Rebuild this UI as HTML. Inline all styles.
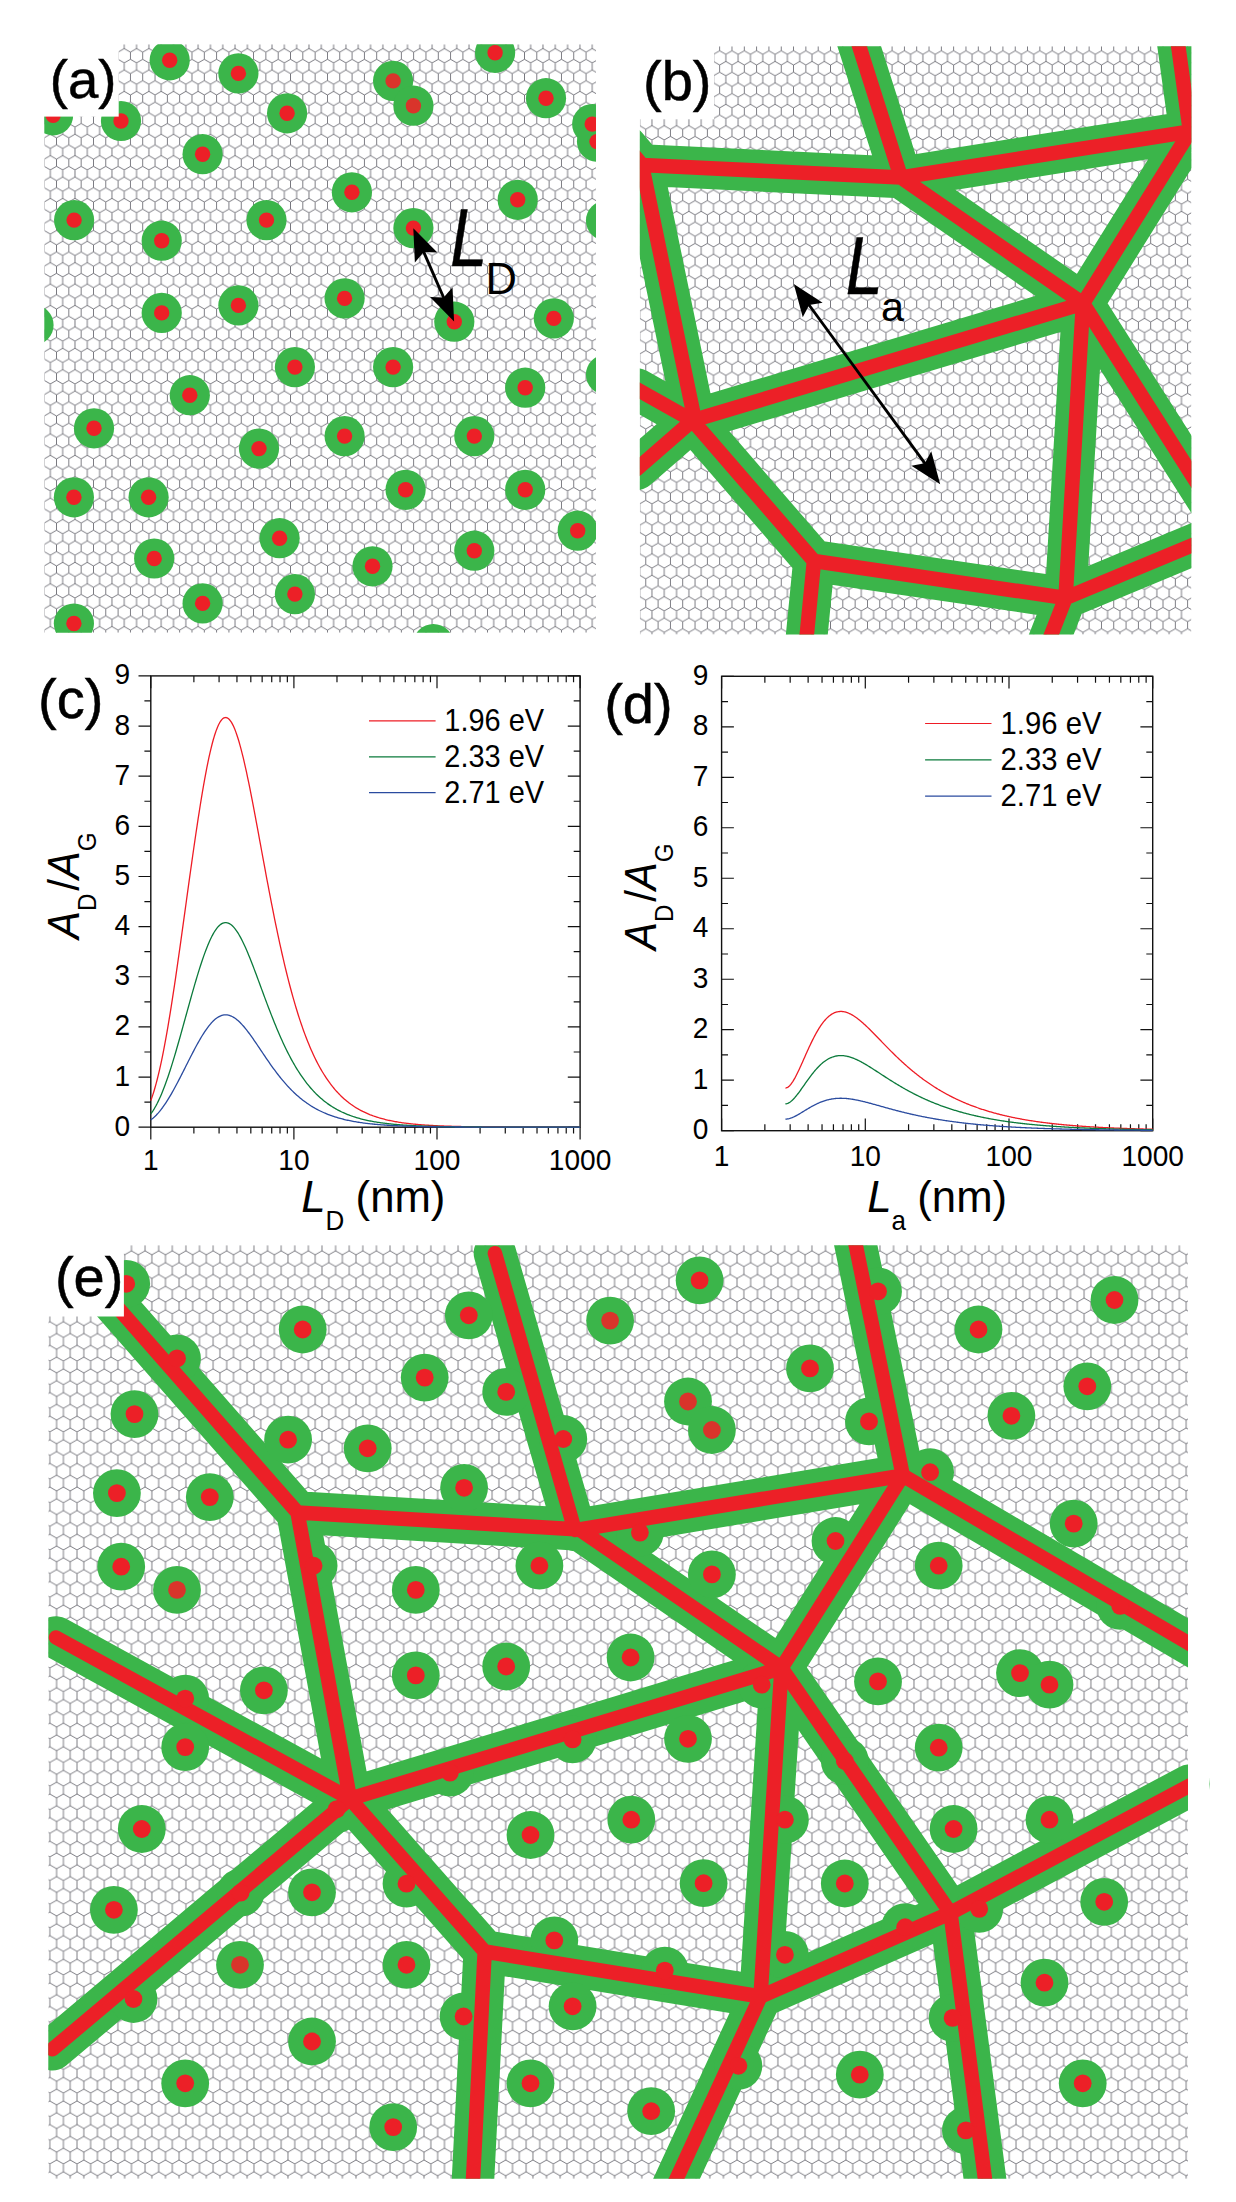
<!DOCTYPE html>
<html lang="en"><head><meta charset="utf-8"><title>Point and line defects in graphene</title>
<style>html,body{margin:0;padding:0;background:#fff}svg{display:block}text{font-family:'Liberation Sans',Arial,Helvetica,sans-serif;fill:#000}.it{font-style:italic}</style></head><body>
<svg width="1236" height="2202" viewBox="0 0 1236 2202">
<defs>
<pattern id="hexA" patternUnits="userSpaceOnUse" x="50.36" y="41.46" width="12.315" height="21.406"><path d="M0 0V7.14L6.16 10.7L12.31 7.14V0M6.16 10.7V17.84L0 21.41M6.16 17.84L12.31 21.41" fill="none" stroke="#5c5c64" stroke-width="0.8"/></pattern>
<pattern id="hexB" patternUnits="userSpaceOnUse" x="639.62" y="32.94" width="12.315" height="21.406"><path d="M0 0V7.14L6.16 10.7L12.31 7.14V0M6.16 10.7V17.84L0 21.41M6.16 17.84L12.31 21.41" fill="none" stroke="#5c5c64" stroke-width="0.8"/></pattern>
<pattern id="hexE" patternUnits="userSpaceOnUse" x="49.81" y="1243" width="13.609" height="23.614"><path d="M0 0V7.87L6.8 11.81L13.61 7.87V0M6.8 11.81V19.68L0 23.61M6.8 19.68L13.61 23.61" fill="none" stroke="#5c5c64" stroke-width="0.8"/></pattern>
<clipPath id="clipA"><rect x="44.3" y="44.3" width="551.7" height="588.4"/></clipPath>
<clipPath id="clipB"><rect x="639.8" y="46.3" width="551.6" height="588.3"/></clipPath>
<clipPath id="clipE"><rect x="48.3" y="1245.2" width="1139.7" height="933.6"/></clipPath>
</defs>
<rect width="1236" height="2202" fill="#fff"/>
<g clip-path="url(#clipA)">
<rect x="44.3" y="44.3" width="551.7" height="588.4" fill="url(#hexA)"/>
<circle cx="169.7" cy="60.3" r="20.1" fill="#3bb54a"/>
<circle cx="238.4" cy="73.4" r="20.1" fill="#3bb54a"/>
<circle cx="287.1" cy="113.3" r="20.1" fill="#3bb54a"/>
<circle cx="121" cy="121" r="20.1" fill="#3bb54a"/>
<circle cx="53.1" cy="115.3" r="20.1" fill="#3bb54a"/>
<circle cx="202.6" cy="154.2" r="20.1" fill="#3bb54a"/>
<circle cx="74.1" cy="220.1" r="20.1" fill="#3bb54a"/>
<circle cx="161.7" cy="240.7" r="20.1" fill="#3bb54a"/>
<circle cx="266.5" cy="220.1" r="20.1" fill="#3bb54a"/>
<circle cx="161.7" cy="312.9" r="20.1" fill="#3bb54a"/>
<circle cx="238.4" cy="305.4" r="20.1" fill="#3bb54a"/>
<circle cx="33.5" cy="325" r="20.1" fill="#3bb54a"/>
<circle cx="393.1" cy="80.9" r="20.1" fill="#3bb54a"/>
<circle cx="413.4" cy="105.7" r="20.1" fill="#3bb54a"/>
<circle cx="495.1" cy="52.8" r="20.1" fill="#3bb54a"/>
<circle cx="546" cy="98.2" r="20.1" fill="#3bb54a"/>
<circle cx="592.2" cy="124.1" r="20.1" fill="#3bb54a"/>
<circle cx="597" cy="141.6" r="20.1" fill="#3bb54a"/>
<circle cx="351.9" cy="192.3" r="20.1" fill="#3bb54a"/>
<circle cx="517.7" cy="199.8" r="20.1" fill="#3bb54a"/>
<circle cx="413.4" cy="228.1" r="20.1" fill="#3bb54a"/>
<circle cx="606" cy="220.6" r="20.1" fill="#3bb54a"/>
<circle cx="344.6" cy="298.4" r="20.1" fill="#3bb54a"/>
<circle cx="454.3" cy="321.7" r="20.1" fill="#3bb54a"/>
<circle cx="553.8" cy="318.4" r="20.1" fill="#3bb54a"/>
<circle cx="294.9" cy="367.1" r="20.1" fill="#3bb54a"/>
<circle cx="189.8" cy="395.2" r="20.1" fill="#3bb54a"/>
<circle cx="94" cy="428.3" r="20.1" fill="#3bb54a"/>
<circle cx="259" cy="448.6" r="20.1" fill="#3bb54a"/>
<circle cx="73.9" cy="497.3" r="20.1" fill="#3bb54a"/>
<circle cx="148.6" cy="497.3" r="20.1" fill="#3bb54a"/>
<circle cx="279.6" cy="538.2" r="20.1" fill="#3bb54a"/>
<circle cx="154.2" cy="558.5" r="20.1" fill="#3bb54a"/>
<circle cx="202.6" cy="603.4" r="20.1" fill="#3bb54a"/>
<circle cx="294.9" cy="594.1" r="20.1" fill="#3bb54a"/>
<circle cx="73.9" cy="623.5" r="20.1" fill="#3bb54a"/>
<circle cx="393.1" cy="367.1" r="20.1" fill="#3bb54a"/>
<circle cx="525.2" cy="387.7" r="20.1" fill="#3bb54a"/>
<circle cx="606" cy="374.6" r="20.1" fill="#3bb54a"/>
<circle cx="344.6" cy="436.1" r="20.1" fill="#3bb54a"/>
<circle cx="474.3" cy="436.1" r="20.1" fill="#3bb54a"/>
<circle cx="405.6" cy="489.8" r="20.1" fill="#3bb54a"/>
<circle cx="525.2" cy="489.8" r="20.1" fill="#3bb54a"/>
<circle cx="577.7" cy="530.7" r="20.1" fill="#3bb54a"/>
<circle cx="474.3" cy="550.7" r="20.1" fill="#3bb54a"/>
<circle cx="372.5" cy="566.3" r="20.1" fill="#3bb54a"/>
<circle cx="433.4" cy="644" r="20.1" fill="#3bb54a"/>
<circle cx="169.7" cy="60.3" r="7.7" fill="#ec2027"/>
<circle cx="238.4" cy="73.4" r="7.7" fill="#ec2027"/>
<circle cx="287.1" cy="113.3" r="7.7" fill="#ec2027"/>
<circle cx="121" cy="121" r="7.7" fill="#ec2027"/>
<circle cx="53.1" cy="115.3" r="7.7" fill="#ec2027"/>
<circle cx="202.6" cy="154.2" r="7.7" fill="#ec2027"/>
<circle cx="74.1" cy="220.1" r="7.7" fill="#ec2027"/>
<circle cx="161.7" cy="240.7" r="7.7" fill="#ec2027"/>
<circle cx="266.5" cy="220.1" r="7.7" fill="#ec2027"/>
<circle cx="161.7" cy="312.9" r="7.7" fill="#ec2027"/>
<circle cx="238.4" cy="305.4" r="7.7" fill="#ec2027"/>
<circle cx="33.5" cy="325" r="7.7" fill="#ec2027"/>
<circle cx="393.1" cy="80.9" r="7.7" fill="#d9342b"/>
<circle cx="413.4" cy="105.7" r="7.7" fill="#d9342b"/>
<circle cx="495.1" cy="52.8" r="7.7" fill="#ec2027"/>
<circle cx="546" cy="98.2" r="7.7" fill="#ec2027"/>
<circle cx="592.2" cy="124.1" r="7.7" fill="#ec2027"/>
<circle cx="597" cy="141.6" r="7.7" fill="#ec2027"/>
<circle cx="351.9" cy="192.3" r="7.7" fill="#ec2027"/>
<circle cx="517.7" cy="199.8" r="7.7" fill="#ec2027"/>
<circle cx="413.4" cy="228.1" r="7.7" fill="#ec2027"/>
<circle cx="606" cy="220.6" r="7.7" fill="#ec2027"/>
<circle cx="344.6" cy="298.4" r="7.7" fill="#ec2027"/>
<circle cx="454.3" cy="321.7" r="7.7" fill="#ec2027"/>
<circle cx="553.8" cy="318.4" r="7.7" fill="#ec2027"/>
<circle cx="294.9" cy="367.1" r="7.7" fill="#ec2027"/>
<circle cx="189.8" cy="395.2" r="7.7" fill="#ec2027"/>
<circle cx="94" cy="428.3" r="7.7" fill="#ec2027"/>
<circle cx="259" cy="448.6" r="7.7" fill="#ec2027"/>
<circle cx="73.9" cy="497.3" r="7.7" fill="#ec2027"/>
<circle cx="148.6" cy="497.3" r="7.7" fill="#ec2027"/>
<circle cx="279.6" cy="538.2" r="7.7" fill="#ec2027"/>
<circle cx="154.2" cy="558.5" r="7.7" fill="#ec2027"/>
<circle cx="202.6" cy="603.4" r="7.7" fill="#ec2027"/>
<circle cx="294.9" cy="594.1" r="7.7" fill="#ec2027"/>
<circle cx="73.9" cy="623.5" r="7.7" fill="#ec2027"/>
<circle cx="393.1" cy="367.1" r="7.7" fill="#ec2027"/>
<circle cx="525.2" cy="387.7" r="7.7" fill="#ec2027"/>
<circle cx="606" cy="374.6" r="7.7" fill="#ec2027"/>
<circle cx="344.6" cy="436.1" r="7.7" fill="#ec2027"/>
<circle cx="474.3" cy="436.1" r="7.7" fill="#ec2027"/>
<circle cx="405.6" cy="489.8" r="7.7" fill="#ec2027"/>
<circle cx="525.2" cy="489.8" r="7.7" fill="#ec2027"/>
<circle cx="577.7" cy="530.7" r="7.7" fill="#ec2027"/>
<circle cx="474.3" cy="550.7" r="7.7" fill="#ec2027"/>
<circle cx="372.5" cy="566.3" r="7.7" fill="#ec2027"/>
<circle cx="433.4" cy="644" r="7.7" fill="#ec2027"/>
</g>
<rect x="40" y="40" width="78.7" height="76.6" fill="#fff"/>
<text x="49.8" y="97.8" font-size="54.5" stroke="#000" stroke-width="0.5">(a)</text>
<path d="M422.68 249.64L444.72 299.96" stroke="#000" stroke-width="2.9" fill="none"/>
<path d="M413.3 228.2L414.87 262.45L423.73 252.02L437.4 252.58ZM454.1 321.4L430 297.02L443.67 297.58L452.53 287.15Z" fill="#000"/>
<text class="it" transform="translate(450.3 265.7) scale(0.81 1)" font-size="82" stroke="#000" stroke-width="0.6">L</text>
<text x="485.5" y="294.2" font-size="43.5">D</text>
<g clip-path="url(#clipB)">
<rect x="639.8" y="46.3" width="551.6" height="588.3" fill="url(#hexB)"/>
<path d="M901 177.5L852.93 26.5M642 165L901 177.5M901 177.5L1190 131.5M901 177.5L1083 303.5M1190 131.5L1083 303.5M1190 131.5L1175.96 29.26M1190 131.5L1215 128.5M642 165L626 146M641.9 165L694.5 419M692.5 420.5L1083 303.5M692.5 420.5L636.5 389M692.5 420.5L636.5 469.3M692.5 420.5L814 561M814 561L805 653.12M814 561L1065.5 598M1065.5 598L1083 303.5M1065.5 598L1216.46 535.24M1065.5 598L1045.48 649.38M1083 303.5L1212.96 508.1" fill="none" stroke="#3bb54a" stroke-width="41.7" stroke-linecap="round" stroke-linejoin="round"/>
<path d="M901 177.5L852.93 26.5M642 165L901 177.5M901 177.5L1190 131.5M901 177.5L1083 303.5M1190 131.5L1083 303.5M1190 131.5L1175.96 29.26M1190 131.5L1215 128.5M642 165L626 146M641.9 165L694.5 419M692.5 420.5L1083 303.5M692.5 420.5L636.5 389M692.5 420.5L636.5 469.3M692.5 420.5L814 561M814 561L805 653.12M814 561L1065.5 598M1065.5 598L1083 303.5M1065.5 598L1216.46 535.24M1065.5 598L1045.48 649.38M1083 303.5L1212.96 508.1" fill="none" stroke="#ec2027" stroke-width="14.6" stroke-linecap="round" stroke-linejoin="round"/>
</g>
<rect x="636" y="42" width="78" height="77.3" fill="#fff"/>
<text x="643" y="99.5" font-size="56" stroke="#000" stroke-width="0.5">(b)</text>
<path d="M807.61 302.99L926.39 465.41" stroke="#000" stroke-width="2.9" fill="none"/>
<path d="M793.8 284.1L802.76 317.19L809.15 305.09L822.62 302.67ZM940.2 484.3L911.38 465.73L924.85 463.31L931.24 451.21Z" fill="#000"/>
<text class="it" transform="translate(845.8 293.5) scale(0.81 1)" font-size="82" stroke="#000" stroke-width="0.6">L</text>
<text x="881" y="321.2" font-size="41.5">a</text>
<g clip-path="url(#clipE)">
<rect x="48.3" y="1245.2" width="1139.7" height="933.6" fill="url(#hexE)"/>
<path d="M297.5 1512.5L7.94 1182.47M297.5 1512.5L579.5 1529.5M297.5 1512.5L350 1798.7M574.7 1530L494.9 1253.2M579.5 1529.5L902.8 1475.5M579.5 1529.5L781.5 1668M902.8 1475.5L848.87 1211.58M902.8 1475.5L781.5 1668M902.8 1475.5L1216.74 1659.75M350 1798.7L56 1637.5M350 1798.7L781.5 1668M350 1798.7L52.5 2049.3M350 1798.7L484.7 1951.5M781.5 1668L760.5 1996.5M781.5 1668L950.5 1913M484.7 1951.5L760.5 1996.5M484.7 1951.5L471.36 2211.51M760.5 1996.5L950.5 1913M760.5 1996.5L664.59 2204.76M950.5 1913L1189.5 1785.7M950.5 1913L989.94 2217.29" fill="none" stroke="#3bb54a" stroke-width="42.5" stroke-linecap="round" stroke-linejoin="round"/>
<circle cx="126.2" cy="1283.8" r="23.9" fill="#3bb54a"/>
<circle cx="302.7" cy="1329.5" r="23.9" fill="#3bb54a"/>
<circle cx="177" cy="1358.4" r="23.9" fill="#3bb54a"/>
<circle cx="424.7" cy="1377.6" r="23.9" fill="#3bb54a"/>
<circle cx="134.5" cy="1414.1" r="23.9" fill="#3bb54a"/>
<circle cx="288.1" cy="1439.7" r="23.9" fill="#3bb54a"/>
<circle cx="367.7" cy="1448.3" r="23.9" fill="#3bb54a"/>
<circle cx="116.9" cy="1493.1" r="23.9" fill="#3bb54a"/>
<circle cx="209.8" cy="1497.1" r="23.9" fill="#3bb54a"/>
<circle cx="313.6" cy="1565.7" r="23.9" fill="#3bb54a"/>
<circle cx="121.2" cy="1566.7" r="23.9" fill="#3bb54a"/>
<circle cx="177" cy="1589.9" r="23.9" fill="#3bb54a"/>
<circle cx="415.8" cy="1589.9" r="23.9" fill="#3bb54a"/>
<circle cx="468.8" cy="1315.3" r="23.9" fill="#3bb54a"/>
<circle cx="610.1" cy="1320.6" r="23.9" fill="#3bb54a"/>
<circle cx="699.6" cy="1280.4" r="23.9" fill="#3bb54a"/>
<circle cx="506.2" cy="1391.9" r="23.9" fill="#3bb54a"/>
<circle cx="810" cy="1368.4" r="23.9" fill="#3bb54a"/>
<circle cx="688" cy="1401.5" r="23.9" fill="#3bb54a"/>
<circle cx="711.9" cy="1430" r="23.9" fill="#3bb54a"/>
<circle cx="563.3" cy="1439" r="23.9" fill="#3bb54a"/>
<circle cx="464.1" cy="1487.8" r="23.9" fill="#3bb54a"/>
<circle cx="639.9" cy="1532.6" r="23.9" fill="#3bb54a"/>
<circle cx="539.4" cy="1565.7" r="23.9" fill="#3bb54a"/>
<circle cx="711.9" cy="1574.4" r="23.9" fill="#3bb54a"/>
<circle cx="630.6" cy="1657.5" r="23.9" fill="#3bb54a"/>
<circle cx="506.2" cy="1666.5" r="23.9" fill="#3bb54a"/>
<circle cx="878" cy="1291.4" r="23.9" fill="#3bb54a"/>
<circle cx="978.5" cy="1329.5" r="23.9" fill="#3bb54a"/>
<circle cx="1114.5" cy="1300" r="23.9" fill="#3bb54a"/>
<circle cx="1087.3" cy="1386.3" r="23.9" fill="#3bb54a"/>
<circle cx="1011.4" cy="1415.8" r="23.9" fill="#3bb54a"/>
<circle cx="869" cy="1421.4" r="23.9" fill="#3bb54a"/>
<circle cx="930.1" cy="1472.2" r="23.9" fill="#3bb54a"/>
<circle cx="1073.7" cy="1523.6" r="23.9" fill="#3bb54a"/>
<circle cx="835.5" cy="1541" r="23.9" fill="#3bb54a"/>
<circle cx="938.7" cy="1565.7" r="23.9" fill="#3bb54a"/>
<circle cx="1120.2" cy="1605.9" r="23.9" fill="#3bb54a"/>
<circle cx="185.2" cy="1698.6" r="23.9" fill="#3bb54a"/>
<circle cx="263.9" cy="1690.3" r="23.9" fill="#3bb54a"/>
<circle cx="415.8" cy="1675.4" r="23.9" fill="#3bb54a"/>
<circle cx="185.2" cy="1747.1" r="23.9" fill="#3bb54a"/>
<circle cx="141.8" cy="1829" r="23.9" fill="#3bb54a"/>
<circle cx="336.8" cy="1809.1" r="23.9" fill="#3bb54a"/>
<circle cx="312" cy="1892.3" r="23.9" fill="#3bb54a"/>
<circle cx="240.6" cy="1892.7" r="23.9" fill="#3bb54a"/>
<circle cx="406.5" cy="1883.7" r="23.9" fill="#3bb54a"/>
<circle cx="113.9" cy="1909.8" r="23.9" fill="#3bb54a"/>
<circle cx="240" cy="1964.8" r="23.9" fill="#3bb54a"/>
<circle cx="406.5" cy="1964.8" r="23.9" fill="#3bb54a"/>
<circle cx="133.5" cy="1999" r="23.9" fill="#3bb54a"/>
<circle cx="312" cy="2041.5" r="23.9" fill="#3bb54a"/>
<circle cx="185.2" cy="2083.3" r="23.9" fill="#3bb54a"/>
<circle cx="393.2" cy="2127.1" r="23.9" fill="#3bb54a"/>
<circle cx="761.7" cy="1684.7" r="23.9" fill="#3bb54a"/>
<circle cx="572.6" cy="1739.4" r="23.9" fill="#3bb54a"/>
<circle cx="449.9" cy="1772.6" r="23.9" fill="#3bb54a"/>
<circle cx="688" cy="1738.8" r="23.9" fill="#3bb54a"/>
<circle cx="631.3" cy="1819.7" r="23.9" fill="#3bb54a"/>
<circle cx="530.5" cy="1835" r="23.9" fill="#3bb54a"/>
<circle cx="784.9" cy="1819.7" r="23.9" fill="#3bb54a"/>
<circle cx="703.6" cy="1883.2" r="23.9" fill="#3bb54a"/>
<circle cx="554.3" cy="1940.4" r="23.9" fill="#3bb54a"/>
<circle cx="664.8" cy="1970.6" r="23.9" fill="#3bb54a"/>
<circle cx="784.9" cy="1954.8" r="23.9" fill="#3bb54a"/>
<circle cx="572.6" cy="2006.3" r="23.9" fill="#3bb54a"/>
<circle cx="463.6" cy="2016.5" r="23.9" fill="#3bb54a"/>
<circle cx="738.4" cy="2065.8" r="23.9" fill="#3bb54a"/>
<circle cx="530.5" cy="2083.3" r="23.9" fill="#3bb54a"/>
<circle cx="651.2" cy="2111.2" r="23.9" fill="#3bb54a"/>
<circle cx="878" cy="1681.4" r="23.9" fill="#3bb54a"/>
<circle cx="1020" cy="1673.1" r="23.9" fill="#3bb54a"/>
<circle cx="1049.5" cy="1684.7" r="23.9" fill="#3bb54a"/>
<circle cx="844.8" cy="1761" r="23.9" fill="#3bb54a"/>
<circle cx="938.7" cy="1747.7" r="23.9" fill="#3bb54a"/>
<circle cx="953.6" cy="1829" r="23.9" fill="#3bb54a"/>
<circle cx="1049.5" cy="1819.7" r="23.9" fill="#3bb54a"/>
<circle cx="844.8" cy="1883.5" r="23.9" fill="#3bb54a"/>
<circle cx="1104.2" cy="1901.8" r="23.9" fill="#3bb54a"/>
<circle cx="979.2" cy="1908.9" r="23.9" fill="#3bb54a"/>
<circle cx="905.2" cy="1927.2" r="23.9" fill="#3bb54a"/>
<circle cx="1044.5" cy="1982.7" r="23.9" fill="#3bb54a"/>
<circle cx="952.6" cy="2017.9" r="23.9" fill="#3bb54a"/>
<circle cx="859.8" cy="2074.7" r="23.9" fill="#3bb54a"/>
<circle cx="1082.7" cy="2083.3" r="23.9" fill="#3bb54a"/>
<circle cx="965.9" cy="2130.4" r="23.9" fill="#3bb54a"/>
<path d="M297.5 1512.5L7.94 1182.47M297.5 1512.5L579.5 1529.5M297.5 1512.5L350 1798.7M574.7 1530L494.9 1253.2M579.5 1529.5L902.8 1475.5M579.5 1529.5L781.5 1668M902.8 1475.5L848.87 1211.58M902.8 1475.5L781.5 1668M902.8 1475.5L1216.74 1659.75M350 1798.7L56 1637.5M350 1798.7L781.5 1668M350 1798.7L52.5 2049.3M350 1798.7L484.7 1951.5M781.5 1668L760.5 1996.5M781.5 1668L950.5 1913M484.7 1951.5L760.5 1996.5M484.7 1951.5L471.36 2211.51M760.5 1996.5L950.5 1913M760.5 1996.5L664.59 2204.76M950.5 1913L1189.5 1785.7M950.5 1913L989.94 2217.29" fill="none" stroke="#ec2027" stroke-width="14.5" stroke-linecap="round" stroke-linejoin="round"/>
<circle cx="126.2" cy="1283.8" r="8.9" fill="#ec2027"/>
<circle cx="302.7" cy="1329.5" r="8.9" fill="#ec2027"/>
<circle cx="177" cy="1358.4" r="8.9" fill="#ec2027"/>
<circle cx="424.7" cy="1377.6" r="8.9" fill="#ec2027"/>
<circle cx="134.5" cy="1414.1" r="8.9" fill="#ec2027"/>
<circle cx="288.1" cy="1439.7" r="8.9" fill="#ec2027"/>
<circle cx="367.7" cy="1448.3" r="8.9" fill="#ec2027"/>
<circle cx="116.9" cy="1493.1" r="8.9" fill="#ec2027"/>
<circle cx="209.8" cy="1497.1" r="8.9" fill="#ec2027"/>
<circle cx="313.6" cy="1565.7" r="8.9" fill="#ec2027"/>
<circle cx="121.2" cy="1566.7" r="8.9" fill="#ec2027"/>
<circle cx="177" cy="1589.9" r="8.9" fill="#d9342b"/>
<circle cx="415.8" cy="1589.9" r="8.9" fill="#ec2027"/>
<circle cx="468.8" cy="1315.3" r="8.9" fill="#ec2027"/>
<circle cx="610.1" cy="1320.6" r="8.9" fill="#d9342b"/>
<circle cx="699.6" cy="1280.4" r="8.9" fill="#ec2027"/>
<circle cx="506.2" cy="1391.9" r="8.9" fill="#ec2027"/>
<circle cx="810" cy="1368.4" r="8.9" fill="#ec2027"/>
<circle cx="688" cy="1401.5" r="8.9" fill="#d9342b"/>
<circle cx="711.9" cy="1430" r="8.9" fill="#d9342b"/>
<circle cx="563.3" cy="1439" r="8.9" fill="#ec2027"/>
<circle cx="464.1" cy="1487.8" r="8.9" fill="#ec2027"/>
<circle cx="639.9" cy="1532.6" r="8.9" fill="#ec2027"/>
<circle cx="539.4" cy="1565.7" r="8.9" fill="#ec2027"/>
<circle cx="711.9" cy="1574.4" r="8.9" fill="#ec2027"/>
<circle cx="630.6" cy="1657.5" r="8.9" fill="#ec2027"/>
<circle cx="506.2" cy="1666.5" r="8.9" fill="#ec2027"/>
<circle cx="878" cy="1291.4" r="8.9" fill="#ec2027"/>
<circle cx="978.5" cy="1329.5" r="8.9" fill="#ec2027"/>
<circle cx="1114.5" cy="1300" r="8.9" fill="#ec2027"/>
<circle cx="1087.3" cy="1386.3" r="8.9" fill="#ec2027"/>
<circle cx="1011.4" cy="1415.8" r="8.9" fill="#ec2027"/>
<circle cx="869" cy="1421.4" r="8.9" fill="#ec2027"/>
<circle cx="930.1" cy="1472.2" r="8.9" fill="#ec2027"/>
<circle cx="1073.7" cy="1523.6" r="8.9" fill="#ec2027"/>
<circle cx="835.5" cy="1541" r="8.9" fill="#ec2027"/>
<circle cx="938.7" cy="1565.7" r="8.9" fill="#ec2027"/>
<circle cx="1120.2" cy="1605.9" r="8.9" fill="#ec2027"/>
<circle cx="185.2" cy="1698.6" r="8.9" fill="#ec2027"/>
<circle cx="263.9" cy="1690.3" r="8.9" fill="#ec2027"/>
<circle cx="415.8" cy="1675.4" r="8.9" fill="#ec2027"/>
<circle cx="185.2" cy="1747.1" r="8.9" fill="#ec2027"/>
<circle cx="141.8" cy="1829" r="8.9" fill="#ec2027"/>
<circle cx="336.8" cy="1809.1" r="8.9" fill="#ec2027"/>
<circle cx="312" cy="1892.3" r="8.9" fill="#ec2027"/>
<circle cx="240.6" cy="1892.7" r="8.9" fill="#ec2027"/>
<circle cx="406.5" cy="1883.7" r="8.9" fill="#ec2027"/>
<circle cx="113.9" cy="1909.8" r="8.9" fill="#ec2027"/>
<circle cx="240" cy="1964.8" r="8.9" fill="#d9342b"/>
<circle cx="406.5" cy="1964.8" r="8.9" fill="#ec2027"/>
<circle cx="133.5" cy="1999" r="8.9" fill="#ec2027"/>
<circle cx="312" cy="2041.5" r="8.9" fill="#ec2027"/>
<circle cx="185.2" cy="2083.3" r="8.9" fill="#ec2027"/>
<circle cx="393.2" cy="2127.1" r="8.9" fill="#ec2027"/>
<circle cx="761.7" cy="1684.7" r="8.9" fill="#ec2027"/>
<circle cx="572.6" cy="1739.4" r="8.9" fill="#ec2027"/>
<circle cx="449.9" cy="1772.6" r="8.9" fill="#ec2027"/>
<circle cx="688" cy="1738.8" r="8.9" fill="#ec2027"/>
<circle cx="631.3" cy="1819.7" r="8.9" fill="#ec2027"/>
<circle cx="530.5" cy="1835" r="8.9" fill="#ec2027"/>
<circle cx="784.9" cy="1819.7" r="8.9" fill="#ec2027"/>
<circle cx="703.6" cy="1883.2" r="8.9" fill="#ec2027"/>
<circle cx="554.3" cy="1940.4" r="8.9" fill="#ec2027"/>
<circle cx="664.8" cy="1970.6" r="8.9" fill="#ec2027"/>
<circle cx="784.9" cy="1954.8" r="8.9" fill="#ec2027"/>
<circle cx="572.6" cy="2006.3" r="8.9" fill="#ec2027"/>
<circle cx="463.6" cy="2016.5" r="8.9" fill="#ec2027"/>
<circle cx="738.4" cy="2065.8" r="8.9" fill="#ec2027"/>
<circle cx="530.5" cy="2083.3" r="8.9" fill="#ec2027"/>
<circle cx="651.2" cy="2111.2" r="8.9" fill="#ec2027"/>
<circle cx="878" cy="1681.4" r="8.9" fill="#ec2027"/>
<circle cx="1020" cy="1673.1" r="8.9" fill="#ec2027"/>
<circle cx="1049.5" cy="1684.7" r="8.9" fill="#ec2027"/>
<circle cx="844.8" cy="1761" r="8.9" fill="#ec2027"/>
<circle cx="938.7" cy="1747.7" r="8.9" fill="#ec2027"/>
<circle cx="953.6" cy="1829" r="8.9" fill="#ec2027"/>
<circle cx="1049.5" cy="1819.7" r="8.9" fill="#ec2027"/>
<circle cx="844.8" cy="1883.5" r="8.9" fill="#ec2027"/>
<circle cx="1104.2" cy="1901.8" r="8.9" fill="#ec2027"/>
<circle cx="979.2" cy="1908.9" r="8.9" fill="#ec2027"/>
<circle cx="905.2" cy="1927.2" r="8.9" fill="#ec2027"/>
<circle cx="1044.5" cy="1982.7" r="8.9" fill="#ec2027"/>
<circle cx="952.6" cy="2017.9" r="8.9" fill="#ec2027"/>
<circle cx="859.8" cy="2074.7" r="8.9" fill="#ec2027"/>
<circle cx="1082.7" cy="2083.3" r="8.9" fill="#ec2027"/>
<circle cx="965.9" cy="2130.4" r="8.9" fill="#ec2027"/>
</g>
<path d="M1209.2 1778Q1210.9 1784 1209.2 1790Q1209.9 1784 1209.2 1778Z" fill="#3bb54a"/>
<rect x="44" y="1241" width="79.9" height="75.5" fill="#fff"/>
<text x="54.9" y="1296" font-size="56" stroke="#000" stroke-width="0.5">(e)</text>
<path d="M138.5 1127.2H150.8M567.8 1127.2H580.1M144.4 1102.13H150.8M573.7 1102.13H580.1M138.5 1077.06H150.8M567.8 1077.06H580.1M144.4 1051.98H150.8M573.7 1051.98H580.1M138.5 1026.91H150.8M567.8 1026.91H580.1M144.4 1001.84H150.8M573.7 1001.84H580.1M138.5 976.77H150.8M567.8 976.77H580.1M144.4 951.69H150.8M573.7 951.69H580.1M138.5 926.62H150.8M567.8 926.62H580.1M144.4 901.55H150.8M573.7 901.55H580.1M138.5 876.48H150.8M567.8 876.48H580.1M144.4 851.41H150.8M573.7 851.41H580.1M138.5 826.33H150.8M567.8 826.33H580.1M144.4 801.26H150.8M573.7 801.26H580.1M138.5 776.19H150.8M567.8 776.19H580.1M144.4 751.12H150.8M573.7 751.12H580.1M138.5 726.04H150.8M567.8 726.04H580.1M144.4 700.97H150.8M573.7 700.97H580.1M138.5 675.9H150.8M567.8 675.9H580.1M150.8 1127.2V1139.5M150.8 675.9V688.2M193.88 1127.2V1133.6M193.88 675.9V682.3M219.08 1127.2V1133.6M219.08 675.9V682.3M236.95 1127.2V1133.6M236.95 675.9V682.3M250.82 1127.2V1133.6M250.82 675.9V682.3M262.15 1127.2V1133.6M262.15 675.9V682.3M271.73 1127.2V1133.6M271.73 675.9V682.3M280.03 1127.2V1133.6M280.03 675.9V682.3M287.35 1127.2V1133.6M287.35 675.9V682.3M293.9 1127.2V1139.5M293.9 675.9V688.2M336.98 1127.2V1133.6M336.98 675.9V682.3M362.18 1127.2V1133.6M362.18 675.9V682.3M380.05 1127.2V1133.6M380.05 675.9V682.3M393.92 1127.2V1133.6M393.92 675.9V682.3M405.25 1127.2V1133.6M405.25 675.9V682.3M414.83 1127.2V1133.6M414.83 675.9V682.3M423.13 1127.2V1133.6M423.13 675.9V682.3M430.45 1127.2V1133.6M430.45 675.9V682.3M437 1127.2V1139.5M437 675.9V688.2M480.08 1127.2V1133.6M480.08 675.9V682.3M505.28 1127.2V1133.6M505.28 675.9V682.3M523.15 1127.2V1133.6M523.15 675.9V682.3M537.02 1127.2V1133.6M537.02 675.9V682.3M548.35 1127.2V1133.6M548.35 675.9V682.3M557.93 1127.2V1133.6M557.93 675.9V682.3M566.23 1127.2V1133.6M566.23 675.9V682.3M573.55 1127.2V1133.6M573.55 675.9V682.3M580.1 1127.2V1139.5M580.1 675.9V688.2" stroke="#111" stroke-width="1.2" fill="none"/>
<rect x="150.8" y="675.9" width="429.3" height="451.3" fill="none" stroke="#111" stroke-width="1.4"/>
<text transform="translate(130.2 1135.7) scale(1 1.08)" font-size="28.1" text-anchor="end">0</text>
<text transform="translate(130.2 1085.56) scale(1 1.08)" font-size="28.1" text-anchor="end">1</text>
<text transform="translate(130.2 1035.41) scale(1 1.08)" font-size="28.1" text-anchor="end">2</text>
<text transform="translate(130.2 985.27) scale(1 1.08)" font-size="28.1" text-anchor="end">3</text>
<text transform="translate(130.2 935.12) scale(1 1.08)" font-size="28.1" text-anchor="end">4</text>
<text transform="translate(130.2 884.98) scale(1 1.08)" font-size="28.1" text-anchor="end">5</text>
<text transform="translate(130.2 834.83) scale(1 1.08)" font-size="28.1" text-anchor="end">6</text>
<text transform="translate(130.2 784.69) scale(1 1.08)" font-size="28.1" text-anchor="end">7</text>
<text transform="translate(130.2 734.54) scale(1 1.08)" font-size="28.1" text-anchor="end">8</text>
<text transform="translate(130.2 684.4) scale(1 1.08)" font-size="28.1" text-anchor="end">9</text>
<text transform="translate(150.8 1170) scale(1 1.08)" font-size="28.1" text-anchor="middle">1</text>
<text transform="translate(293.9 1170) scale(1 1.08)" font-size="28.1" text-anchor="middle">10</text>
<text transform="translate(437 1170) scale(1 1.08)" font-size="28.1" text-anchor="middle">100</text>
<text transform="translate(580.1 1170) scale(1 1.08)" font-size="28.1" text-anchor="middle">1000</text>
<text x="38" y="718.2" font-size="56" stroke="#000" stroke-width="0.5">(c)</text>
<text transform="translate(79.4 939) rotate(-90) scale(1 1.07)" font-size="42"><tspan class="it">A</tspan><tspan font-size="24.3" dy="15.9">D</tspan><tspan dy="-15.9" dx="2.6">/</tspan><tspan class="it">A</tspan><tspan font-size="24.3" dy="15.9">G</tspan></text>
<text transform="translate(301.3 1212.2) scale(1 1.02)" font-size="43.7" class="it">L</text>
<text transform="translate(325.5 1229.7) scale(1 1.04)" font-size="26">D</text>
<text transform="translate(355.6 1212.2) scale(1 1.02)" font-size="43.7">(nm)</text>
<path d="M369 720.9H435.6" stroke="#ee1c25" stroke-width="1.2"/>
<text transform="translate(444.3 731.1) scale(1 1.069)" font-size="28.95">1.96 eV</text>
<path d="M369 756.8H435.6" stroke="#0b7a3b" stroke-width="1.2"/>
<text transform="translate(444.3 767) scale(1 1.069)" font-size="28.95">2.33 eV</text>
<path d="M369 792.7H435.6" stroke="#2a4b9f" stroke-width="1.2"/>
<text transform="translate(444.3 802.9) scale(1 1.069)" font-size="28.95">2.71 eV</text>
<path d="M150.8 1100.62L151.88 1097.62L152.95 1094.4L154.03 1090.96L155.1 1087.29L156.18 1083.4L157.26 1079.28L158.33 1074.93L159.41 1070.35L160.48 1065.55L161.56 1060.53L162.64 1055.3L163.71 1049.85L164.79 1044.19L165.86 1038.34L166.94 1032.29L168.02 1026.06L169.09 1019.65L170.17 1013.07L171.24 1006.34L172.32 999.46L173.39 992.44L174.47 985.29L175.55 978.03L176.62 970.66L177.7 963.2L178.77 955.66L179.85 948.04L180.93 940.37L182 932.64L183.08 924.88L184.15 917.1L185.23 909.29L186.31 901.49L187.38 893.69L188.46 885.92L189.53 878.17L190.61 870.47L191.69 862.82L192.76 855.23L193.84 847.73L194.91 840.31L195.99 832.99L197.07 825.79L198.14 818.72L199.22 811.78L200.29 804.99L201.37 798.37L202.45 791.93L203.52 785.68L204.6 779.63L205.67 773.79L206.75 768.19L207.82 762.82L208.9 757.71L209.98 752.86L211.05 748.29L212.13 744L213.2 740L214.28 736.32L215.36 732.94L216.43 729.89L217.51 727.16L218.58 724.76L219.66 722.7L220.74 720.98L221.81 719.6L222.89 718.57L223.96 717.88L225.04 717.53L226.12 717.52L227.19 717.85L228.27 718.51L229.34 719.5L230.42 720.8L231.5 722.43L232.57 724.35L233.65 726.58L234.72 729.09L235.8 731.88L236.88 734.93L237.95 738.24L239.03 741.8L240.1 745.58L241.18 749.59L242.25 753.8L243.33 758.21L244.41 762.79L245.48 767.55L246.56 772.46L247.63 777.51L248.71 782.69L249.79 787.99L250.86 793.4L251.94 798.89L253.01 804.47L254.09 810.12L255.17 815.83L256.24 821.59L257.32 827.38L258.39 833.21L259.47 839.05L260.55 844.9L261.62 850.75L262.7 856.6L263.77 862.43L264.85 868.24L265.93 874.02L267 879.76L268.08 885.46L269.15 891.12L270.23 896.72L271.31 902.26L272.38 907.74L273.46 913.16L274.53 918.51L275.61 923.78L276.68 928.98L277.76 934.1L278.84 939.14L279.91 944.09L280.99 948.96L282.06 953.75L283.14 958.44L284.22 963.05L285.29 967.57L286.37 972L287.44 976.33L288.52 980.58L289.6 984.73L290.67 988.79L291.75 992.77L292.82 996.65L293.9 1000.44L294.98 1004.14L296.05 1007.76L297.13 1011.28L298.2 1014.72L299.28 1018.08L300.36 1021.35L301.43 1024.53L302.51 1027.64L303.58 1030.66L304.66 1033.6L305.74 1036.46L306.81 1039.25L307.89 1041.96L308.96 1044.6L310.04 1047.16L311.12 1049.65L312.19 1052.07L313.27 1054.43L314.34 1056.71L315.42 1058.93L316.49 1061.09L317.57 1063.18L318.65 1065.22L319.72 1067.19L320.8 1069.1L321.87 1070.96L322.95 1072.76L324.03 1074.51L325.1 1076.2L326.18 1077.85L327.25 1079.44L328.33 1080.99L329.41 1082.48L330.48 1083.94L331.56 1085.34L332.63 1086.71L333.71 1088.03L334.79 1089.31L335.86 1090.55L336.94 1091.75L338.01 1092.91L339.09 1094.04L340.17 1095.13L341.24 1096.18L342.32 1097.2L343.39 1098.19L344.47 1099.15L345.55 1100.08L346.62 1100.98L347.7 1101.85L348.77 1102.69L349.85 1103.5L350.92 1104.29L352 1105.05L353.08 1105.79L354.15 1106.5L355.23 1107.19L356.3 1107.86L357.38 1108.5L358.46 1109.13L359.53 1109.73L360.61 1110.31L361.68 1110.88L362.76 1111.43L363.84 1111.95L364.91 1112.46L365.99 1112.96L367.06 1113.44L368.14 1113.9L369.22 1114.34L370.29 1114.78L371.37 1115.19L372.44 1115.6L373.52 1115.99L374.6 1116.37L375.67 1116.73L376.75 1117.08L377.82 1117.42L378.9 1117.75L379.98 1118.07L381.05 1118.38L382.13 1118.68L383.2 1118.96L384.28 1119.24L385.35 1119.51L386.43 1119.77L387.51 1120.02L388.58 1120.26L389.66 1120.5L390.73 1120.73L391.81 1120.94L392.89 1121.16L393.96 1121.36L395.04 1121.56L396.11 1121.75L397.19 1121.93L398.27 1122.11L399.34 1122.28L400.42 1122.45L401.49 1122.61L402.57 1122.77L403.65 1122.92L404.72 1123.06L405.8 1123.2L406.87 1123.34L407.95 1123.47L409.03 1123.6L410.1 1123.72L411.18 1123.84L412.25 1123.95L413.33 1124.06L414.41 1124.17L415.48 1124.27L416.56 1124.37L417.63 1124.46L418.71 1124.56L419.78 1124.65L420.86 1124.73L421.94 1124.82L423.01 1124.9L424.09 1124.98L425.16 1125.05L426.24 1125.13L427.32 1125.2L428.39 1125.26L429.47 1125.33L430.54 1125.39L431.62 1125.45L432.7 1125.51L433.77 1125.57L434.85 1125.63L435.92 1125.68L437 1125.73L438.08 1125.78L439.15 1125.83L440.23 1125.88L441.3 1125.92L442.38 1125.96L443.46 1126.01L444.53 1126.05L445.61 1126.09L446.68 1126.12L447.76 1126.16L448.84 1126.2L449.91 1126.23L450.99 1126.26L452.06 1126.3L453.14 1126.33L454.22 1126.36L455.29 1126.38L456.37 1126.41L457.44 1126.44L458.52 1126.46L459.59 1126.49L460.67 1126.51L461.75 1126.54L462.82 1126.56L463.9 1126.58L464.97 1126.6L466.05 1126.62L467.13 1126.64L468.2 1126.66L469.28 1126.68L470.35 1126.7L471.43 1126.71L472.51 1126.73L473.58 1126.75L474.66 1126.76L475.73 1126.78L476.81 1126.79L477.89 1126.81L478.96 1126.82L480.04 1126.83L481.11 1126.84L482.19 1126.86L483.27 1126.87L484.34 1126.88L485.42 1126.89L486.49 1126.9L487.57 1126.91L488.65 1126.92L489.72 1126.93L490.8 1126.94L491.87 1126.95L492.95 1126.96L494.02 1126.97L495.1 1126.97L496.18 1126.98L497.25 1126.99L498.33 1127L499.4 1127L500.48 1127.01L501.56 1127.02L502.63 1127.02L503.71 1127.03L504.78 1127.03L505.86 1127.04L506.94 1127.05L508.01 1127.05L509.09 1127.06L510.16 1127.06L511.24 1127.07L512.32 1127.07L513.39 1127.07L514.47 1127.08L515.54 1127.08L516.62 1127.09L517.7 1127.09L518.77 1127.09L519.85 1127.1L520.92 1127.1L522 1127.1L523.08 1127.11L524.15 1127.11L525.23 1127.11L526.3 1127.12L527.38 1127.12L528.45 1127.12L529.53 1127.13L530.61 1127.13L531.68 1127.13L532.76 1127.13L533.83 1127.13L534.91 1127.14L535.99 1127.14L537.06 1127.14L538.14 1127.14L539.21 1127.15L540.29 1127.15L541.37 1127.15L542.44 1127.15L543.52 1127.15L544.59 1127.15L545.67 1127.16L546.75 1127.16L547.82 1127.16L548.9 1127.16L549.97 1127.16L551.05 1127.16L552.13 1127.16L553.2 1127.17L554.28 1127.17L555.35 1127.17L556.43 1127.17L557.51 1127.17L558.58 1127.17L559.66 1127.17L560.73 1127.17L561.81 1127.17L562.88 1127.17L563.96 1127.18L565.04 1127.18L566.11 1127.18L567.19 1127.18L568.26 1127.18L569.34 1127.18L570.42 1127.18L571.49 1127.18L572.57 1127.18L573.64 1127.18L574.72 1127.18L575.8 1127.18L576.87 1127.18L577.95 1127.18L579.02 1127.18L580.1 1127.19" fill="none" stroke="#ee1c25" stroke-width="1.3" stroke-linejoin="round"/>
<path d="M150.8 1113.93L151.88 1112.43L152.95 1110.82L154.03 1109.1L155.1 1107.27L156.18 1105.33L157.26 1103.27L158.33 1101.1L159.41 1098.81L160.48 1096.42L161.56 1093.91L162.64 1091.29L163.71 1088.57L164.79 1085.75L165.86 1082.82L166.94 1079.8L168.02 1076.69L169.09 1073.49L170.17 1070.21L171.24 1066.84L172.32 1063.41L173.39 1059.9L174.47 1056.33L175.55 1052.71L176.62 1049.03L177.7 1045.3L178.77 1041.53L179.85 1037.73L180.93 1033.9L182 1030.04L183.08 1026.17L184.15 1022.28L185.23 1018.38L186.31 1014.48L187.38 1010.59L188.46 1006.71L189.53 1002.84L190.61 998.99L191.69 995.17L192.76 991.38L193.84 987.63L194.91 983.93L195.99 980.28L197.07 976.68L198.14 973.15L199.22 969.68L200.29 966.29L201.37 962.99L202.45 959.77L203.52 956.65L204.6 953.63L205.67 950.71L206.75 947.91L207.82 945.23L208.9 942.68L209.98 940.26L211.05 937.97L212.13 935.83L213.2 933.84L214.28 932L215.36 930.31L216.43 928.79L217.51 927.42L218.58 926.23L219.66 925.2L220.74 924.34L221.81 923.65L222.89 923.13L223.96 922.79L225.04 922.62L226.12 922.61L227.19 922.77L228.27 923.1L229.34 923.6L230.42 924.25L231.5 925.06L232.57 926.02L233.65 927.13L234.72 928.39L235.8 929.78L236.88 931.31L237.95 932.96L239.03 934.73L240.1 936.63L241.18 938.63L242.25 940.73L243.33 942.93L244.41 945.22L245.48 947.59L246.56 950.05L247.63 952.57L248.71 955.16L249.79 957.8L250.86 960.5L251.94 963.25L253.01 966.03L254.09 968.86L255.17 971.71L256.24 974.58L257.32 977.48L258.39 980.38L259.47 983.3L260.55 986.22L261.62 989.15L262.7 992.07L263.77 994.98L264.85 997.88L265.93 1000.76L267 1003.63L268.08 1006.48L269.15 1009.3L270.23 1012.1L271.31 1014.87L272.38 1017.61L273.46 1020.31L274.53 1022.98L275.61 1025.62L276.68 1028.21L277.76 1030.77L278.84 1033.28L279.91 1035.76L280.99 1038.19L282.06 1040.58L283.14 1042.92L284.22 1045.23L285.29 1047.48L286.37 1049.69L287.44 1051.86L288.52 1053.98L289.6 1056.05L290.67 1058.08L291.75 1060.07L292.82 1062L293.9 1063.9L294.98 1065.75L296.05 1067.55L297.13 1069.31L298.2 1071.03L299.28 1072.71L300.36 1074.34L301.43 1075.93L302.51 1077.48L303.58 1078.99L304.66 1080.46L305.74 1081.89L306.81 1083.28L307.89 1084.63L308.96 1085.95L310.04 1087.23L311.12 1088.47L312.19 1089.68L313.27 1090.86L314.34 1092L315.42 1093.11L316.49 1094.19L317.57 1095.23L318.65 1096.25L319.72 1097.23L320.8 1098.19L321.87 1099.11L322.95 1100.01L324.03 1100.89L325.1 1101.73L326.18 1102.55L327.25 1103.35L328.33 1104.12L329.41 1104.87L330.48 1105.59L331.56 1106.3L332.63 1106.98L333.71 1107.64L334.79 1108.28L335.86 1108.9L336.94 1109.5L338.01 1110.08L339.09 1110.64L340.17 1111.18L341.24 1111.71L342.32 1112.22L343.39 1112.71L344.47 1113.19L345.55 1113.66L346.62 1114.1L347.7 1114.54L348.77 1114.96L349.85 1115.36L350.92 1115.76L352 1116.14L353.08 1116.51L354.15 1116.86L355.23 1117.21L356.3 1117.54L357.38 1117.86L358.46 1118.17L359.53 1118.48L360.61 1118.77L361.68 1119.05L362.76 1119.32L363.84 1119.59L364.91 1119.84L365.99 1120.09L367.06 1120.33L368.14 1120.56L369.22 1120.78L370.29 1121L371.37 1121.2L372.44 1121.41L373.52 1121.6L374.6 1121.79L375.67 1121.97L376.75 1122.15L377.82 1122.32L378.9 1122.48L379.98 1122.64L381.05 1122.8L382.13 1122.94L383.2 1123.09L384.28 1123.23L385.35 1123.36L386.43 1123.49L387.51 1123.62L388.58 1123.74L389.66 1123.85L390.73 1123.97L391.81 1124.08L392.89 1124.18L393.96 1124.28L395.04 1124.38L396.11 1124.48L397.19 1124.57L398.27 1124.66L399.34 1124.74L400.42 1124.83L401.49 1124.91L402.57 1124.99L403.65 1125.06L404.72 1125.13L405.8 1125.2L406.87 1125.27L407.95 1125.34L409.03 1125.4L410.1 1125.46L411.18 1125.52L412.25 1125.58L413.33 1125.63L414.41 1125.69L415.48 1125.74L416.56 1125.79L417.63 1125.83L418.71 1125.88L419.78 1125.93L420.86 1125.97L421.94 1126.01L423.01 1126.05L424.09 1126.09L425.16 1126.13L426.24 1126.16L427.32 1126.2L428.39 1126.23L429.47 1126.27L430.54 1126.3L431.62 1126.33L432.7 1126.36L433.77 1126.39L434.85 1126.41L435.92 1126.44L437 1126.47L438.08 1126.49L439.15 1126.52L440.23 1126.54L441.3 1126.56L442.38 1126.58L443.46 1126.6L444.53 1126.62L445.61 1126.64L446.68 1126.66L447.76 1126.68L448.84 1126.7L449.91 1126.72L450.99 1126.73L452.06 1126.75L453.14 1126.76L454.22 1126.78L455.29 1126.79L456.37 1126.81L457.44 1126.82L458.52 1126.83L459.59 1126.85L460.67 1126.86L461.75 1126.87L462.82 1126.88L463.9 1126.89L464.97 1126.9L466.05 1126.91L467.13 1126.92L468.2 1126.93L469.28 1126.94L470.35 1126.95L471.43 1126.96L472.51 1126.97L473.58 1126.97L474.66 1126.98L475.73 1126.99L476.81 1127L477.89 1127L478.96 1127.01L480.04 1127.02L481.11 1127.02L482.19 1127.03L483.27 1127.03L484.34 1127.04L485.42 1127.05L486.49 1127.05L487.57 1127.06L488.65 1127.06L489.72 1127.07L490.8 1127.07L491.87 1127.07L492.95 1127.08L494.02 1127.08L495.1 1127.09L496.18 1127.09L497.25 1127.09L498.33 1127.1L499.4 1127.1L500.48 1127.1L501.56 1127.11L502.63 1127.11L503.71 1127.11L504.78 1127.12L505.86 1127.12L506.94 1127.12L508.01 1127.13L509.09 1127.13L510.16 1127.13L511.24 1127.13L512.32 1127.13L513.39 1127.14L514.47 1127.14L515.54 1127.14L516.62 1127.14L517.7 1127.15L518.77 1127.15L519.85 1127.15L520.92 1127.15L522 1127.15L523.08 1127.15L524.15 1127.16L525.23 1127.16L526.3 1127.16L527.38 1127.16L528.45 1127.16L529.53 1127.16L530.61 1127.16L531.68 1127.17L532.76 1127.17L533.83 1127.17L534.91 1127.17L535.99 1127.17L537.06 1127.17L538.14 1127.17L539.21 1127.17L540.29 1127.17L541.37 1127.17L542.44 1127.18L543.52 1127.18L544.59 1127.18L545.67 1127.18L546.75 1127.18L547.82 1127.18L548.9 1127.18L549.97 1127.18L551.05 1127.18L552.13 1127.18L553.2 1127.18L554.28 1127.18L555.35 1127.18L556.43 1127.18L557.51 1127.18L558.58 1127.19L559.66 1127.19L560.73 1127.19L561.81 1127.19L562.88 1127.19L563.96 1127.19L565.04 1127.19L566.11 1127.19L567.19 1127.19L568.26 1127.19L569.34 1127.19L570.42 1127.19L571.49 1127.19L572.57 1127.19L573.64 1127.19L574.72 1127.19L575.8 1127.19L576.87 1127.19L577.95 1127.19L579.02 1127.19L580.1 1127.19" fill="none" stroke="#0b7a3b" stroke-width="1.3" stroke-linejoin="round"/>
<path d="M150.8 1119.91L151.88 1119.09L152.95 1118.21L154.03 1117.26L155.1 1116.26L156.18 1115.19L157.26 1114.06L158.33 1112.87L159.41 1111.61L160.48 1110.3L161.56 1108.92L162.64 1107.49L163.71 1105.99L164.79 1104.44L165.86 1102.84L166.94 1101.18L168.02 1099.47L169.09 1097.71L170.17 1095.91L171.24 1094.06L172.32 1092.18L173.39 1090.25L174.47 1088.29L175.55 1086.3L176.62 1084.28L177.7 1082.24L178.77 1080.17L179.85 1078.08L180.93 1075.98L182 1073.86L183.08 1071.73L184.15 1069.59L185.23 1067.46L186.31 1065.32L187.38 1063.18L188.46 1061.05L189.53 1058.92L190.61 1056.81L191.69 1054.71L192.76 1052.63L193.84 1050.58L194.91 1048.54L195.99 1046.54L197.07 1044.56L198.14 1042.62L199.22 1040.72L200.29 1038.86L201.37 1037.04L202.45 1035.28L203.52 1033.56L204.6 1031.9L205.67 1030.31L206.75 1028.77L207.82 1027.3L208.9 1025.89L209.98 1024.57L211.05 1023.31L212.13 1022.14L213.2 1021.04L214.28 1020.03L215.36 1019.1L216.43 1018.27L217.51 1017.52L218.58 1016.86L219.66 1016.3L220.74 1015.83L221.81 1015.45L222.89 1015.16L223.96 1014.97L225.04 1014.88L226.12 1014.88L227.19 1014.97L228.27 1015.15L229.34 1015.42L230.42 1015.78L231.5 1016.22L232.57 1016.75L233.65 1017.36L234.72 1018.05L235.8 1018.81L236.88 1019.65L237.95 1020.56L239.03 1021.53L240.1 1022.57L241.18 1023.67L242.25 1024.82L243.33 1026.03L244.41 1027.29L245.48 1028.59L246.56 1029.94L247.63 1031.32L248.71 1032.74L249.79 1034.2L250.86 1035.68L251.94 1037.19L253.01 1038.72L254.09 1040.27L255.17 1041.83L256.24 1043.41L257.32 1045L258.39 1046.6L259.47 1048.2L260.55 1049.8L261.62 1051.41L262.7 1053.01L263.77 1054.61L264.85 1056.2L265.93 1057.78L267 1059.36L268.08 1060.92L269.15 1062.47L270.23 1064.01L271.31 1065.53L272.38 1067.03L273.46 1068.52L274.53 1069.98L275.61 1071.43L276.68 1072.85L277.76 1074.26L278.84 1075.64L279.91 1077L280.99 1078.33L282.06 1079.64L283.14 1080.93L284.22 1082.19L285.29 1083.43L286.37 1084.65L287.44 1085.84L288.52 1087L289.6 1088.14L290.67 1089.25L291.75 1090.34L292.82 1091.41L293.9 1092.45L294.98 1093.46L296.05 1094.45L297.13 1095.42L298.2 1096.36L299.28 1097.28L300.36 1098.18L301.43 1099.05L302.51 1099.9L303.58 1100.73L304.66 1101.54L305.74 1102.32L306.81 1103.09L307.89 1103.83L308.96 1104.55L310.04 1105.26L311.12 1105.94L312.19 1106.6L313.27 1107.25L314.34 1107.87L315.42 1108.48L316.49 1109.07L317.57 1109.65L318.65 1110.21L319.72 1110.75L320.8 1111.27L321.87 1111.78L322.95 1112.27L324.03 1112.75L325.1 1113.22L326.18 1113.67L327.25 1114.11L328.33 1114.53L329.41 1114.94L330.48 1115.34L331.56 1115.72L332.63 1116.1L333.71 1116.46L334.79 1116.81L335.86 1117.15L336.94 1117.48L338.01 1117.8L339.09 1118.11L340.17 1118.41L341.24 1118.7L342.32 1118.98L343.39 1119.25L344.47 1119.51L345.55 1119.76L346.62 1120.01L347.7 1120.25L348.77 1120.48L349.85 1120.7L350.92 1120.92L352 1121.13L353.08 1121.33L354.15 1121.52L355.23 1121.71L356.3 1121.9L357.38 1122.07L358.46 1122.24L359.53 1122.41L360.61 1122.57L361.68 1122.73L362.76 1122.87L363.84 1123.02L364.91 1123.16L365.99 1123.3L367.06 1123.43L368.14 1123.55L369.22 1123.68L370.29 1123.79L371.37 1123.91L372.44 1124.02L373.52 1124.13L374.6 1124.23L375.67 1124.33L376.75 1124.43L377.82 1124.52L378.9 1124.61L379.98 1124.7L381.05 1124.78L382.13 1124.86L383.2 1124.94L384.28 1125.02L385.35 1125.09L386.43 1125.16L387.51 1125.23L388.58 1125.3L389.66 1125.36L390.73 1125.42L391.81 1125.48L392.89 1125.54L393.96 1125.6L395.04 1125.65L396.11 1125.71L397.19 1125.76L398.27 1125.8L399.34 1125.85L400.42 1125.9L401.49 1125.94L402.57 1125.98L403.65 1126.03L404.72 1126.07L405.8 1126.1L406.87 1126.14L407.95 1126.18L409.03 1126.21L410.1 1126.25L411.18 1126.28L412.25 1126.31L413.33 1126.34L414.41 1126.37L415.48 1126.4L416.56 1126.42L417.63 1126.45L418.71 1126.48L419.78 1126.5L420.86 1126.52L421.94 1126.55L423.01 1126.57L424.09 1126.59L425.16 1126.61L426.24 1126.63L427.32 1126.65L428.39 1126.67L429.47 1126.69L430.54 1126.7L431.62 1126.72L432.7 1126.74L433.77 1126.75L434.85 1126.77L435.92 1126.78L437 1126.8L438.08 1126.81L439.15 1126.82L440.23 1126.84L441.3 1126.85L442.38 1126.86L443.46 1126.87L444.53 1126.88L445.61 1126.89L446.68 1126.91L447.76 1126.92L448.84 1126.92L449.91 1126.93L450.99 1126.94L452.06 1126.95L453.14 1126.96L454.22 1126.97L455.29 1126.98L456.37 1126.98L457.44 1126.99L458.52 1127L459.59 1127.01L460.67 1127.01L461.75 1127.02L462.82 1127.02L463.9 1127.03L464.97 1127.04L466.05 1127.04L467.13 1127.05L468.2 1127.05L469.28 1127.06L470.35 1127.06L471.43 1127.07L472.51 1127.07L473.58 1127.08L474.66 1127.08L475.73 1127.08L476.81 1127.09L477.89 1127.09L478.96 1127.1L480.04 1127.1L481.11 1127.1L482.19 1127.11L483.27 1127.11L484.34 1127.11L485.42 1127.12L486.49 1127.12L487.57 1127.12L488.65 1127.12L489.72 1127.13L490.8 1127.13L491.87 1127.13L492.95 1127.13L494.02 1127.14L495.1 1127.14L496.18 1127.14L497.25 1127.14L498.33 1127.14L499.4 1127.15L500.48 1127.15L501.56 1127.15L502.63 1127.15L503.71 1127.15L504.78 1127.15L505.86 1127.16L506.94 1127.16L508.01 1127.16L509.09 1127.16L510.16 1127.16L511.24 1127.16L512.32 1127.16L513.39 1127.17L514.47 1127.17L515.54 1127.17L516.62 1127.17L517.7 1127.17L518.77 1127.17L519.85 1127.17L520.92 1127.17L522 1127.17L523.08 1127.17L524.15 1127.18L525.23 1127.18L526.3 1127.18L527.38 1127.18L528.45 1127.18L529.53 1127.18L530.61 1127.18L531.68 1127.18L532.76 1127.18L533.83 1127.18L534.91 1127.18L535.99 1127.18L537.06 1127.18L538.14 1127.18L539.21 1127.18L540.29 1127.19L541.37 1127.19L542.44 1127.19L543.52 1127.19L544.59 1127.19L545.67 1127.19L546.75 1127.19L547.82 1127.19L548.9 1127.19L549.97 1127.19L551.05 1127.19L552.13 1127.19L553.2 1127.19L554.28 1127.19L555.35 1127.19L556.43 1127.19L557.51 1127.19L558.58 1127.19L559.66 1127.19L560.73 1127.19L561.81 1127.19L562.88 1127.19L563.96 1127.19L565.04 1127.19L566.11 1127.19L567.19 1127.19L568.26 1127.19L569.34 1127.19L570.42 1127.19L571.49 1127.19L572.57 1127.19L573.64 1127.2L574.72 1127.2L575.8 1127.2L576.87 1127.2L577.95 1127.2L579.02 1127.2L580.1 1127.2" fill="none" stroke="#2a4b9f" stroke-width="1.3" stroke-linejoin="round"/>
<path d="M721.6 1130.7H733.9M1140.4 1130.7H1152.7M721.6 1105.46H728M1146.3 1105.46H1152.7M721.6 1080.21H733.9M1140.4 1080.21H1152.7M721.6 1054.97H728M1146.3 1054.97H1152.7M721.6 1029.72H733.9M1140.4 1029.72H1152.7M721.6 1004.48H728M1146.3 1004.48H1152.7M721.6 979.23H733.9M1140.4 979.23H1152.7M721.6 953.99H728M1146.3 953.99H1152.7M721.6 928.74H733.9M1140.4 928.74H1152.7M721.6 903.5H728M1146.3 903.5H1152.7M721.6 878.26H733.9M1140.4 878.26H1152.7M721.6 853.01H728M1146.3 853.01H1152.7M721.6 827.77H733.9M1140.4 827.77H1152.7M721.6 802.52H728M1146.3 802.52H1152.7M721.6 777.28H733.9M1140.4 777.28H1152.7M721.6 752.03H728M1146.3 752.03H1152.7M721.6 726.79H733.9M1140.4 726.79H1152.7M721.6 701.54H728M1146.3 701.54H1152.7M721.6 676.3H733.9M1140.4 676.3H1152.7M721.6 1118.4V1130.7M721.6 676.3V688.6M764.86 1124.3V1130.7M764.86 676.3V682.7M790.16 1124.3V1130.7M790.16 676.3V682.7M808.12 1124.3V1130.7M808.12 676.3V682.7M822.04 1124.3V1130.7M822.04 676.3V682.7M833.42 1124.3V1130.7M833.42 676.3V682.7M843.04 1124.3V1130.7M843.04 676.3V682.7M851.37 1124.3V1130.7M851.37 676.3V682.7M858.72 1124.3V1130.7M858.72 676.3V682.7M865.3 1118.4V1130.7M865.3 676.3V688.6M908.56 1124.3V1130.7M908.56 676.3V682.7M933.86 1124.3V1130.7M933.86 676.3V682.7M951.82 1124.3V1130.7M951.82 676.3V682.7M965.74 1124.3V1130.7M965.74 676.3V682.7M977.12 1124.3V1130.7M977.12 676.3V682.7M986.74 1124.3V1130.7M986.74 676.3V682.7M995.07 1124.3V1130.7M995.07 676.3V682.7M1002.42 1124.3V1130.7M1002.42 676.3V682.7M1009 1118.4V1130.7M1009 676.3V688.6M1052.26 1124.3V1130.7M1052.26 676.3V682.7M1077.56 1124.3V1130.7M1077.56 676.3V682.7M1095.52 1124.3V1130.7M1095.52 676.3V682.7M1109.44 1124.3V1130.7M1109.44 676.3V682.7M1120.82 1124.3V1130.7M1120.82 676.3V682.7M1130.44 1124.3V1130.7M1130.44 676.3V682.7M1138.77 1124.3V1130.7M1138.77 676.3V682.7M1146.12 1124.3V1130.7M1146.12 676.3V682.7M1152.7 1118.4V1130.7M1152.7 676.3V688.6" stroke="#111" stroke-width="1.2" fill="none"/>
<rect x="721.6" y="676.3" width="431.1" height="454.4" fill="none" stroke="#111" stroke-width="1.4"/>
<text transform="translate(708.3 1139.2) scale(1 1.08)" font-size="28.1" text-anchor="end">0</text>
<text transform="translate(708.3 1088.71) scale(1 1.08)" font-size="28.1" text-anchor="end">1</text>
<text transform="translate(708.3 1038.22) scale(1 1.08)" font-size="28.1" text-anchor="end">2</text>
<text transform="translate(708.3 987.73) scale(1 1.08)" font-size="28.1" text-anchor="end">3</text>
<text transform="translate(708.3 937.24) scale(1 1.08)" font-size="28.1" text-anchor="end">4</text>
<text transform="translate(708.3 886.76) scale(1 1.08)" font-size="28.1" text-anchor="end">5</text>
<text transform="translate(708.3 836.27) scale(1 1.08)" font-size="28.1" text-anchor="end">6</text>
<text transform="translate(708.3 785.78) scale(1 1.08)" font-size="28.1" text-anchor="end">7</text>
<text transform="translate(708.3 735.29) scale(1 1.08)" font-size="28.1" text-anchor="end">8</text>
<text transform="translate(708.3 684.8) scale(1 1.08)" font-size="28.1" text-anchor="end">9</text>
<text transform="translate(721.6 1166) scale(1 1.08)" font-size="28.1" text-anchor="middle">1</text>
<text transform="translate(865.3 1166) scale(1 1.08)" font-size="28.1" text-anchor="middle">10</text>
<text transform="translate(1009 1166) scale(1 1.08)" font-size="28.1" text-anchor="middle">100</text>
<text transform="translate(1152.7 1166) scale(1 1.08)" font-size="28.1" text-anchor="middle">1000</text>
<text x="604.2" y="723.2" font-size="56" stroke="#000" stroke-width="0.5">(d)</text>
<text transform="translate(656.3 950) rotate(-90) scale(1 1.07)" font-size="42"><tspan class="it">A</tspan><tspan font-size="24.3" dy="15.9">D</tspan><tspan dy="-15.9" dx="2.6">/</tspan><tspan class="it">A</tspan><tspan font-size="24.3" dy="15.9">G</tspan></text>
<text transform="translate(867.3 1212.2) scale(1 1.02)" font-size="43.7" class="it">L</text>
<text transform="translate(891.5 1229.7) scale(1 1.04)" font-size="26">a</text>
<text transform="translate(917.3 1212.2) scale(1 1.02)" font-size="43.7">(nm)</text>
<path d="M925.1 723.5H991.5" stroke="#ee1c25" stroke-width="1.2"/>
<text transform="translate(1000.5 733.7) scale(1 1.069)" font-size="29.3">1.96 eV</text>
<path d="M925.1 759.85H991.5" stroke="#0b7a3b" stroke-width="1.2"/>
<text transform="translate(1000.5 770.05) scale(1 1.069)" font-size="29.3">2.33 eV</text>
<path d="M925.1 796.2H991.5" stroke="#2a4b9f" stroke-width="1.2"/>
<text transform="translate(1000.5 806.4) scale(1 1.069)" font-size="29.3">2.71 eV</text>
<path d="M785.41 1088.04L786.15 1087.96L786.88 1087.73L787.62 1087.37L788.35 1086.87L789.09 1086.25L789.83 1085.51L790.56 1084.67L791.3 1083.74L792.03 1082.71L792.77 1081.6L793.51 1080.41L794.24 1079.16L794.98 1077.84L795.71 1076.46L796.45 1075.03L797.19 1073.56L797.92 1072.05L798.66 1070.5L799.39 1068.92L800.13 1067.32L800.87 1065.7L801.6 1064.06L802.34 1062.41L803.07 1060.75L803.81 1059.08L804.55 1057.42L805.28 1055.75L806.02 1054.09L806.75 1052.45L807.49 1050.81L808.23 1049.19L808.96 1047.58L809.7 1045.99L810.44 1044.43L811.17 1042.88L811.91 1041.37L812.64 1039.88L813.38 1038.42L814.12 1036.99L814.85 1035.59L815.59 1034.22L816.32 1032.89L817.06 1031.6L817.8 1030.34L818.53 1029.12L819.27 1027.94L820 1026.8L820.74 1025.7L821.48 1024.64L822.21 1023.62L822.95 1022.64L823.68 1021.7L824.42 1020.8L825.16 1019.95L825.89 1019.14L826.63 1018.37L827.36 1017.64L828.1 1016.96L828.84 1016.32L829.57 1015.72L830.31 1015.16L831.04 1014.64L831.78 1014.16L832.52 1013.73L833.25 1013.33L833.99 1012.97L834.72 1012.65L835.46 1012.38L836.2 1012.14L836.93 1011.93L837.67 1011.77L838.41 1011.64L839.14 1011.54L839.88 1011.48L840.61 1011.46L841.35 1011.47L842.09 1011.51L842.82 1011.58L843.56 1011.69L844.29 1011.82L845.03 1011.99L845.77 1012.18L846.5 1012.4L847.24 1012.65L847.97 1012.93L848.71 1013.23L849.45 1013.56L850.18 1013.91L850.92 1014.28L851.65 1014.68L852.39 1015.1L853.13 1015.54L853.86 1016L854.6 1016.48L855.33 1016.97L856.07 1017.49L856.81 1018.02L857.54 1018.57L858.28 1019.14L859.01 1019.72L859.75 1020.31L860.49 1020.92L861.22 1021.54L861.96 1022.18L862.69 1022.82L863.43 1023.48L864.17 1024.14L864.9 1024.82L865.64 1025.51L866.38 1026.2L867.11 1026.9L867.85 1027.61L868.58 1028.32L869.32 1029.05L870.06 1029.77L870.79 1030.51L871.53 1031.24L872.26 1031.99L873 1032.73L873.74 1033.48L874.47 1034.23L875.21 1034.99L875.94 1035.74L876.68 1036.5L877.42 1037.26L878.15 1038.02L878.89 1038.79L879.62 1039.55L880.36 1040.31L881.1 1041.07L881.83 1041.84L882.57 1042.6L883.3 1043.36L884.04 1044.12L884.78 1044.87L885.51 1045.63L886.25 1046.38L886.98 1047.14L887.72 1047.89L888.46 1048.63L889.19 1049.38L889.93 1050.12L890.66 1050.86L891.4 1051.59L892.14 1052.33L892.87 1053.05L893.61 1053.78L894.35 1054.5L895.08 1055.22L895.82 1055.93L896.55 1056.64L897.29 1057.35L898.03 1058.05L898.76 1058.75L899.5 1059.44L900.23 1060.13L900.97 1060.81L901.71 1061.49L902.44 1062.17L903.18 1062.84L903.91 1063.51L904.65 1064.17L905.39 1064.83L906.12 1065.48L906.86 1066.13L907.59 1066.77L908.33 1067.41L909.07 1068.04L909.8 1068.67L910.54 1069.29L911.27 1069.91L912.01 1070.53L912.75 1071.14L913.48 1071.74L914.22 1072.34L914.95 1072.93L915.69 1073.52L916.43 1074.11L917.16 1074.69L917.9 1075.27L918.63 1075.84L919.37 1076.4L920.11 1076.96L920.84 1077.52L921.58 1078.07L922.32 1078.62L923.05 1079.16L923.79 1079.69L924.52 1080.23L925.26 1080.75L926 1081.28L926.73 1081.8L927.47 1082.31L928.2 1082.82L928.94 1083.32L929.68 1083.82L930.41 1084.32L931.15 1084.81L931.88 1085.3L932.62 1085.78L933.36 1086.25L934.09 1086.73L934.83 1087.2L935.56 1087.66L936.3 1088.12L937.04 1088.57L937.77 1089.03L938.51 1089.47L939.24 1089.91L939.98 1090.35L940.72 1090.79L941.45 1091.22L942.19 1091.64L942.92 1092.06L943.66 1092.48L944.4 1092.89L945.13 1093.3L945.87 1093.71L946.6 1094.11L947.34 1094.51L948.08 1094.9L948.81 1095.29L949.55 1095.68L950.29 1096.06L951.02 1096.44L951.76 1096.81L952.49 1097.18L953.23 1097.55L953.97 1097.91L954.7 1098.27L955.44 1098.63L956.17 1098.98L956.91 1099.33L957.65 1099.67L958.38 1100.01L959.12 1100.35L959.85 1100.69L960.59 1101.02L961.33 1101.35L962.06 1101.67L962.8 1101.99L963.53 1102.31L964.27 1102.62L965.01 1102.94L965.74 1103.24L966.48 1103.55L967.21 1103.85L967.95 1104.15L968.69 1104.44L969.42 1104.74L970.16 1105.03L970.89 1105.31L971.63 1105.59L972.37 1105.87L973.1 1106.15L973.84 1106.43L974.58 1106.7L975.31 1106.97L976.05 1107.23L976.78 1107.49L977.52 1107.75L978.26 1108.01L978.99 1108.27L979.73 1108.52L980.46 1108.77L981.2 1109.01L981.94 1109.26L982.67 1109.5L983.41 1109.74L984.14 1109.97L984.88 1110.21L985.62 1110.44L986.35 1110.67L987.09 1110.89L987.82 1111.12L988.56 1111.34L989.3 1111.56L990.03 1111.77L990.77 1111.99L991.5 1112.2L992.24 1112.41L992.98 1112.62L993.71 1112.82L994.45 1113.02L995.18 1113.22L995.92 1113.42L996.66 1113.62L997.39 1113.81L998.13 1114L998.86 1114.19L999.6 1114.38L1000.34 1114.57L1001.07 1114.75L1001.81 1114.93L1002.55 1115.11L1003.28 1115.29L1004.02 1115.46L1004.75 1115.64L1005.49 1115.81L1006.23 1115.98L1006.96 1116.15L1007.7 1116.31L1008.43 1116.48L1009.17 1116.64L1009.91 1116.8L1010.64 1116.96L1011.38 1117.12L1012.11 1117.27L1012.85 1117.43L1013.59 1117.58L1014.32 1117.73L1015.06 1117.88L1015.79 1118.02L1016.53 1118.17L1017.27 1118.31L1018 1118.45L1018.74 1118.59L1019.47 1118.73L1020.21 1118.87L1020.95 1119.01L1021.68 1119.14L1022.42 1119.27L1023.15 1119.4L1023.89 1119.53L1024.63 1119.66L1025.36 1119.79L1026.1 1119.91L1026.83 1120.04L1027.57 1120.16L1028.31 1120.28L1029.04 1120.4L1029.78 1120.52L1030.52 1120.64L1031.25 1120.75L1031.99 1120.87L1032.72 1120.98L1033.46 1121.09L1034.2 1121.2L1034.93 1121.31L1035.67 1121.42L1036.4 1121.53L1037.14 1121.63L1037.88 1121.74L1038.61 1121.84L1039.35 1121.94L1040.08 1122.04L1040.82 1122.14L1041.56 1122.24L1042.29 1122.34L1043.03 1122.44L1043.76 1122.53L1044.5 1122.63L1045.24 1122.72L1045.97 1122.81L1046.71 1122.9L1047.44 1122.99L1048.18 1123.08L1048.92 1123.17L1049.65 1123.26L1050.39 1123.34L1051.12 1123.43L1051.86 1123.51L1052.6 1123.6L1053.33 1123.68L1054.07 1123.76L1054.8 1123.84L1055.54 1123.92L1056.28 1124L1057.01 1124.08L1057.75 1124.15L1058.49 1124.23L1059.22 1124.3L1059.96 1124.38L1060.69 1124.45L1061.43 1124.52L1062.17 1124.6L1062.9 1124.67L1063.64 1124.74L1064.37 1124.81L1065.11 1124.87L1065.85 1124.94L1066.58 1125.01L1067.32 1125.07L1068.05 1125.14L1068.79 1125.2L1069.53 1125.27L1070.26 1125.33L1071 1125.39L1071.73 1125.46L1072.47 1125.52L1073.21 1125.58L1073.94 1125.64L1074.68 1125.69L1075.41 1125.75L1076.15 1125.81L1076.89 1125.87L1077.62 1125.92L1078.36 1125.98L1079.09 1126.03L1079.83 1126.09L1080.57 1126.14L1081.3 1126.19L1082.04 1126.25L1082.77 1126.3L1083.51 1126.35L1084.25 1126.4L1084.98 1126.45L1085.72 1126.5L1086.46 1126.55L1087.19 1126.6L1087.93 1126.65L1088.66 1126.69L1089.4 1126.74L1090.14 1126.79L1090.87 1126.83L1091.61 1126.88L1092.34 1126.92L1093.08 1126.96L1093.82 1127.01L1094.55 1127.05L1095.29 1127.09L1096.02 1127.14L1096.76 1127.18L1097.5 1127.22L1098.23 1127.26L1098.97 1127.3L1099.7 1127.34L1100.44 1127.38L1101.18 1127.42L1101.91 1127.45L1102.65 1127.49L1103.38 1127.53L1104.12 1127.57L1104.86 1127.6L1105.59 1127.64L1106.33 1127.67L1107.06 1127.71L1107.8 1127.75L1108.54 1127.78L1109.27 1127.81L1110.01 1127.85L1110.74 1127.88L1111.48 1127.91L1112.22 1127.95L1112.95 1127.98L1113.69 1128.01L1114.43 1128.04L1115.16 1128.07L1115.9 1128.1L1116.63 1128.13L1117.37 1128.16L1118.11 1128.19L1118.84 1128.22L1119.58 1128.25L1120.31 1128.28L1121.05 1128.31L1121.79 1128.34L1122.52 1128.36L1123.26 1128.39L1123.99 1128.42L1124.73 1128.44L1125.47 1128.47L1126.2 1128.5L1126.94 1128.52L1127.67 1128.55L1128.41 1128.57L1129.15 1128.6L1129.88 1128.62L1130.62 1128.65L1131.35 1128.67L1132.09 1128.69L1132.83 1128.72L1133.56 1128.74L1134.3 1128.76L1135.03 1128.79L1135.77 1128.81L1136.51 1128.83L1137.24 1128.85L1137.98 1128.87L1138.71 1128.9L1139.45 1128.92L1140.19 1128.94L1140.92 1128.96L1141.66 1128.98L1142.4 1129L1143.13 1129.02L1143.87 1129.04L1144.6 1129.06L1145.34 1129.08L1146.08 1129.1L1146.81 1129.11L1147.55 1129.13L1148.28 1129.15L1149.02 1129.17L1149.76 1129.19L1150.49 1129.21L1151.23 1129.22L1151.96 1129.24L1152.7 1129.26" fill="none" stroke="#ee1c25" stroke-width="1.3" stroke-linejoin="round"/>
<path d="M785.41 1103.82L786.15 1103.77L786.88 1103.63L787.62 1103.4L788.35 1103.09L789.09 1102.69L789.83 1102.23L790.56 1101.7L791.3 1101.11L792.03 1100.47L792.77 1099.77L793.51 1099.02L794.24 1098.23L794.98 1097.4L795.71 1096.53L796.45 1095.63L797.19 1094.7L797.92 1093.75L798.66 1092.77L799.39 1091.78L800.13 1090.77L800.87 1089.75L801.6 1088.71L802.34 1087.67L803.07 1086.63L803.81 1085.58L804.55 1084.53L805.28 1083.48L806.02 1082.44L806.75 1081.4L807.49 1080.37L808.23 1079.35L808.96 1078.33L809.7 1077.33L810.44 1076.35L811.17 1075.38L811.91 1074.42L812.64 1073.48L813.38 1072.56L814.12 1071.66L814.85 1070.78L815.59 1069.92L816.32 1069.08L817.06 1068.27L817.8 1067.47L818.53 1066.71L819.27 1065.96L820 1065.24L820.74 1064.55L821.48 1063.88L822.21 1063.24L822.95 1062.62L823.68 1062.03L824.42 1061.47L825.16 1060.93L825.89 1060.42L826.63 1059.93L827.36 1059.47L828.1 1059.04L828.84 1058.64L829.57 1058.26L830.31 1057.91L831.04 1057.58L831.78 1057.28L832.52 1057.01L833.25 1056.76L833.99 1056.53L834.72 1056.33L835.46 1056.16L836.2 1056L836.93 1055.88L837.67 1055.77L838.41 1055.69L839.14 1055.63L839.88 1055.59L840.61 1055.58L841.35 1055.58L842.09 1055.61L842.82 1055.65L843.56 1055.72L844.29 1055.81L845.03 1055.91L845.77 1056.03L846.5 1056.17L847.24 1056.33L847.97 1056.5L848.71 1056.69L849.45 1056.9L850.18 1057.12L850.92 1057.36L851.65 1057.61L852.39 1057.87L853.13 1058.15L853.86 1058.44L854.6 1058.74L855.33 1059.05L856.07 1059.38L856.81 1059.71L857.54 1060.06L858.28 1060.42L859.01 1060.78L859.75 1061.16L860.49 1061.54L861.22 1061.93L861.96 1062.33L862.69 1062.74L863.43 1063.15L864.17 1063.57L864.9 1064L865.64 1064.43L866.38 1064.86L867.11 1065.31L867.85 1065.75L868.58 1066.2L869.32 1066.66L870.06 1067.12L870.79 1067.58L871.53 1068.04L872.26 1068.51L873 1068.98L873.74 1069.45L874.47 1069.93L875.21 1070.4L875.94 1070.88L876.68 1071.36L877.42 1071.83L878.15 1072.31L878.89 1072.79L879.62 1073.27L880.36 1073.76L881.1 1074.24L881.83 1074.72L882.57 1075.2L883.3 1075.67L884.04 1076.15L884.78 1076.63L885.51 1077.11L886.25 1077.58L886.98 1078.05L887.72 1078.53L888.46 1079L889.19 1079.47L889.93 1079.93L890.66 1080.4L891.4 1080.86L892.14 1081.32L892.87 1081.78L893.61 1082.24L894.35 1082.69L895.08 1083.15L895.82 1083.6L896.55 1084.04L897.29 1084.49L898.03 1084.93L898.76 1085.37L899.5 1085.81L900.23 1086.24L900.97 1086.67L901.71 1087.1L902.44 1087.53L903.18 1087.95L903.91 1088.37L904.65 1088.79L905.39 1089.2L906.12 1089.61L906.86 1090.02L907.59 1090.42L908.33 1090.83L909.07 1091.23L909.8 1091.62L910.54 1092.01L911.27 1092.4L912.01 1092.79L912.75 1093.17L913.48 1093.56L914.22 1093.93L914.95 1094.31L915.69 1094.68L916.43 1095.05L917.16 1095.41L917.9 1095.78L918.63 1096.14L919.37 1096.49L920.11 1096.85L920.84 1097.2L921.58 1097.54L922.32 1097.89L923.05 1098.23L923.79 1098.57L924.52 1098.9L925.26 1099.23L926 1099.56L926.73 1099.89L927.47 1100.21L928.2 1100.53L928.94 1100.85L929.68 1101.17L930.41 1101.48L931.15 1101.79L931.88 1102.09L932.62 1102.4L933.36 1102.7L934.09 1103L934.83 1103.29L935.56 1103.58L936.3 1103.87L937.04 1104.16L937.77 1104.44L938.51 1104.73L939.24 1105L939.98 1105.28L940.72 1105.55L941.45 1105.83L942.19 1106.09L942.92 1106.36L943.66 1106.62L944.4 1106.88L945.13 1107.14L945.87 1107.4L946.6 1107.65L947.34 1107.9L948.08 1108.15L948.81 1108.39L949.55 1108.64L950.29 1108.88L951.02 1109.11L951.76 1109.35L952.49 1109.58L953.23 1109.81L953.97 1110.04L954.7 1110.27L955.44 1110.49L956.17 1110.72L956.91 1110.94L957.65 1111.15L958.38 1111.37L959.12 1111.58L959.85 1111.79L960.59 1112L961.33 1112.21L962.06 1112.41L962.8 1112.61L963.53 1112.81L964.27 1113.01L965.01 1113.21L965.74 1113.4L966.48 1113.59L967.21 1113.78L967.95 1113.97L968.69 1114.16L969.42 1114.34L970.16 1114.52L970.89 1114.71L971.63 1114.88L972.37 1115.06L973.1 1115.23L973.84 1115.41L974.58 1115.58L975.31 1115.75L976.05 1115.92L976.78 1116.08L977.52 1116.24L978.26 1116.41L978.99 1116.57L979.73 1116.73L980.46 1116.88L981.2 1117.04L981.94 1117.19L982.67 1117.34L983.41 1117.49L984.14 1117.64L984.88 1117.79L985.62 1117.94L986.35 1118.08L987.09 1118.22L987.82 1118.36L988.56 1118.5L989.3 1118.64L990.03 1118.78L990.77 1118.91L991.5 1119.04L992.24 1119.18L992.98 1119.31L993.71 1119.44L994.45 1119.56L995.18 1119.69L995.92 1119.81L996.66 1119.94L997.39 1120.06L998.13 1120.18L998.86 1120.3L999.6 1120.42L1000.34 1120.54L1001.07 1120.65L1001.81 1120.77L1002.55 1120.88L1003.28 1120.99L1004.02 1121.1L1004.75 1121.21L1005.49 1121.32L1006.23 1121.43L1006.96 1121.53L1007.7 1121.64L1008.43 1121.74L1009.17 1121.84L1009.91 1121.94L1010.64 1122.04L1011.38 1122.14L1012.11 1122.24L1012.85 1122.34L1013.59 1122.43L1014.32 1122.53L1015.06 1122.62L1015.79 1122.71L1016.53 1122.8L1017.27 1122.9L1018 1122.98L1018.74 1123.07L1019.47 1123.16L1020.21 1123.25L1020.95 1123.33L1021.68 1123.42L1022.42 1123.5L1023.15 1123.58L1023.89 1123.66L1024.63 1123.75L1025.36 1123.83L1026.1 1123.9L1026.83 1123.98L1027.57 1124.06L1028.31 1124.14L1029.04 1124.21L1029.78 1124.29L1030.52 1124.36L1031.25 1124.43L1031.99 1124.51L1032.72 1124.58L1033.46 1124.65L1034.2 1124.72L1034.93 1124.79L1035.67 1124.85L1036.4 1124.92L1037.14 1124.99L1037.88 1125.05L1038.61 1125.12L1039.35 1125.18L1040.08 1125.25L1040.82 1125.31L1041.56 1125.37L1042.29 1125.43L1043.03 1125.49L1043.76 1125.55L1044.5 1125.61L1045.24 1125.67L1045.97 1125.73L1046.71 1125.79L1047.44 1125.85L1048.18 1125.9L1048.92 1125.96L1049.65 1126.01L1050.39 1126.07L1051.12 1126.12L1051.86 1126.17L1052.6 1126.23L1053.33 1126.28L1054.07 1126.33L1054.8 1126.38L1055.54 1126.43L1056.28 1126.48L1057.01 1126.53L1057.75 1126.58L1058.49 1126.62L1059.22 1126.67L1059.96 1126.72L1060.69 1126.76L1061.43 1126.81L1062.17 1126.85L1062.9 1126.9L1063.64 1126.94L1064.37 1126.99L1065.11 1127.03L1065.85 1127.07L1066.58 1127.11L1067.32 1127.16L1068.05 1127.2L1068.79 1127.24L1069.53 1127.28L1070.26 1127.32L1071 1127.36L1071.73 1127.4L1072.47 1127.43L1073.21 1127.47L1073.94 1127.51L1074.68 1127.55L1075.41 1127.58L1076.15 1127.62L1076.89 1127.66L1077.62 1127.69L1078.36 1127.73L1079.09 1127.76L1079.83 1127.79L1080.57 1127.83L1081.3 1127.86L1082.04 1127.89L1082.77 1127.93L1083.51 1127.96L1084.25 1127.99L1084.98 1128.02L1085.72 1128.05L1086.46 1128.08L1087.19 1128.12L1087.93 1128.15L1088.66 1128.18L1089.4 1128.2L1090.14 1128.23L1090.87 1128.26L1091.61 1128.29L1092.34 1128.32L1093.08 1128.35L1093.82 1128.37L1094.55 1128.4L1095.29 1128.43L1096.02 1128.45L1096.76 1128.48L1097.5 1128.51L1098.23 1128.53L1098.97 1128.56L1099.7 1128.58L1100.44 1128.61L1101.18 1128.63L1101.91 1128.66L1102.65 1128.68L1103.38 1128.7L1104.12 1128.73L1104.86 1128.75L1105.59 1128.77L1106.33 1128.79L1107.06 1128.82L1107.8 1128.84L1108.54 1128.86L1109.27 1128.88L1110.01 1128.9L1110.74 1128.92L1111.48 1128.94L1112.22 1128.96L1112.95 1128.99L1113.69 1129.01L1114.43 1129.03L1115.16 1129.04L1115.9 1129.06L1116.63 1129.08L1117.37 1129.1L1118.11 1129.12L1118.84 1129.14L1119.58 1129.16L1120.31 1129.18L1121.05 1129.19L1121.79 1129.21L1122.52 1129.23L1123.26 1129.25L1123.99 1129.26L1124.73 1129.28L1125.47 1129.3L1126.2 1129.31L1126.94 1129.33L1127.67 1129.34L1128.41 1129.36L1129.15 1129.38L1129.88 1129.39L1130.62 1129.41L1131.35 1129.42L1132.09 1129.44L1132.83 1129.45L1133.56 1129.47L1134.3 1129.48L1135.03 1129.49L1135.77 1129.51L1136.51 1129.52L1137.24 1129.54L1137.98 1129.55L1138.71 1129.56L1139.45 1129.58L1140.19 1129.59L1140.92 1129.6L1141.66 1129.62L1142.4 1129.63L1143.13 1129.64L1143.87 1129.65L1144.6 1129.67L1145.34 1129.68L1146.08 1129.69L1146.81 1129.7L1147.55 1129.71L1148.28 1129.72L1149.02 1129.74L1149.76 1129.75L1150.49 1129.76L1151.23 1129.77L1151.96 1129.78L1152.7 1129.79" fill="none" stroke="#0b7a3b" stroke-width="1.3" stroke-linejoin="round"/>
<path d="M785.41 1119.1L786.15 1119.07L786.88 1119.01L787.62 1118.91L788.35 1118.78L789.09 1118.61L789.83 1118.41L790.56 1118.18L791.3 1117.93L792.03 1117.65L792.77 1117.34L793.51 1117.02L794.24 1116.68L794.98 1116.32L795.71 1115.95L796.45 1115.56L797.19 1115.16L797.92 1114.75L798.66 1114.33L799.39 1113.9L800.13 1113.46L800.87 1113.02L801.6 1112.57L802.34 1112.12L803.07 1111.67L803.81 1111.22L804.55 1110.77L805.28 1110.31L806.02 1109.86L806.75 1109.41L807.49 1108.97L808.23 1108.53L808.96 1108.09L809.7 1107.66L810.44 1107.23L811.17 1106.81L811.91 1106.4L812.64 1106L813.38 1105.6L814.12 1105.21L814.85 1104.83L815.59 1104.46L816.32 1104.1L817.06 1103.74L817.8 1103.4L818.53 1103.07L819.27 1102.75L820 1102.44L820.74 1102.14L821.48 1101.85L822.21 1101.57L822.95 1101.31L823.68 1101.05L824.42 1100.81L825.16 1100.58L825.89 1100.36L826.63 1100.15L827.36 1099.95L828.1 1099.76L828.84 1099.59L829.57 1099.42L830.31 1099.27L831.04 1099.13L831.78 1099L832.52 1098.88L833.25 1098.78L833.99 1098.68L834.72 1098.59L835.46 1098.52L836.2 1098.45L836.93 1098.4L837.67 1098.35L838.41 1098.31L839.14 1098.29L839.88 1098.27L840.61 1098.27L841.35 1098.27L842.09 1098.28L842.82 1098.3L843.56 1098.33L844.29 1098.36L845.03 1098.41L845.77 1098.46L846.5 1098.52L847.24 1098.59L847.97 1098.67L848.71 1098.75L849.45 1098.84L850.18 1098.93L850.92 1099.03L851.65 1099.14L852.39 1099.26L853.13 1099.38L853.86 1099.5L854.6 1099.63L855.33 1099.77L856.07 1099.91L856.81 1100.05L857.54 1100.2L858.28 1100.36L859.01 1100.51L859.75 1100.68L860.49 1100.84L861.22 1101.01L861.96 1101.18L862.69 1101.36L863.43 1101.54L864.17 1101.72L864.9 1101.9L865.64 1102.09L866.38 1102.28L867.11 1102.47L867.85 1102.66L868.58 1102.85L869.32 1103.05L870.06 1103.25L870.79 1103.45L871.53 1103.65L872.26 1103.85L873 1104.05L873.74 1104.26L874.47 1104.46L875.21 1104.67L875.94 1104.87L876.68 1105.08L877.42 1105.29L878.15 1105.49L878.89 1105.7L879.62 1105.91L880.36 1106.11L881.1 1106.32L881.83 1106.53L882.57 1106.74L883.3 1106.94L884.04 1107.15L884.78 1107.36L885.51 1107.56L886.25 1107.77L886.98 1107.97L887.72 1108.17L888.46 1108.38L889.19 1108.58L889.93 1108.78L890.66 1108.98L891.4 1109.18L892.14 1109.38L892.87 1109.58L893.61 1109.78L894.35 1109.97L895.08 1110.17L895.82 1110.36L896.55 1110.56L897.29 1110.75L898.03 1110.94L898.76 1111.13L899.5 1111.32L900.23 1111.5L900.97 1111.69L901.71 1111.88L902.44 1112.06L903.18 1112.24L903.91 1112.42L904.65 1112.6L905.39 1112.78L906.12 1112.96L906.86 1113.14L907.59 1113.31L908.33 1113.48L909.07 1113.66L909.8 1113.83L910.54 1114L911.27 1114.17L912.01 1114.33L912.75 1114.5L913.48 1114.66L914.22 1114.83L914.95 1114.99L915.69 1115.15L916.43 1115.31L917.16 1115.47L917.9 1115.62L918.63 1115.78L919.37 1115.93L920.11 1116.08L920.84 1116.23L921.58 1116.38L922.32 1116.53L923.05 1116.68L923.79 1116.83L924.52 1116.97L925.26 1117.11L926 1117.26L926.73 1117.4L927.47 1117.54L928.2 1117.68L928.94 1117.81L929.68 1117.95L930.41 1118.08L931.15 1118.22L931.88 1118.35L932.62 1118.48L933.36 1118.61L934.09 1118.74L934.83 1118.87L935.56 1118.99L936.3 1119.12L937.04 1119.24L937.77 1119.36L938.51 1119.49L939.24 1119.61L939.98 1119.73L940.72 1119.84L941.45 1119.96L942.19 1120.08L942.92 1120.19L943.66 1120.3L944.4 1120.42L945.13 1120.53L945.87 1120.64L946.6 1120.75L947.34 1120.86L948.08 1120.96L948.81 1121.07L949.55 1121.17L950.29 1121.28L951.02 1121.38L951.76 1121.48L952.49 1121.58L953.23 1121.68L953.97 1121.78L954.7 1121.88L955.44 1121.98L956.17 1122.07L956.91 1122.17L957.65 1122.26L958.38 1122.35L959.12 1122.45L959.85 1122.54L960.59 1122.63L961.33 1122.72L962.06 1122.8L962.8 1122.89L963.53 1122.98L964.27 1123.06L965.01 1123.15L965.74 1123.23L966.48 1123.31L967.21 1123.4L967.95 1123.48L968.69 1123.56L969.42 1123.64L970.16 1123.72L970.89 1123.79L971.63 1123.87L972.37 1123.95L973.1 1124.02L973.84 1124.1L974.58 1124.17L975.31 1124.24L976.05 1124.32L976.78 1124.39L977.52 1124.46L978.26 1124.53L978.99 1124.6L979.73 1124.67L980.46 1124.73L981.2 1124.8L981.94 1124.87L982.67 1124.93L983.41 1125L984.14 1125.06L984.88 1125.13L985.62 1125.19L986.35 1125.25L987.09 1125.31L987.82 1125.37L988.56 1125.43L989.3 1125.49L990.03 1125.55L990.77 1125.61L991.5 1125.67L992.24 1125.72L992.98 1125.78L993.71 1125.84L994.45 1125.89L995.18 1125.95L995.92 1126L996.66 1126.05L997.39 1126.11L998.13 1126.16L998.86 1126.21L999.6 1126.26L1000.34 1126.31L1001.07 1126.36L1001.81 1126.41L1002.55 1126.46L1003.28 1126.51L1004.02 1126.56L1004.75 1126.6L1005.49 1126.65L1006.23 1126.7L1006.96 1126.74L1007.7 1126.79L1008.43 1126.83L1009.17 1126.88L1009.91 1126.92L1010.64 1126.96L1011.38 1127.01L1012.11 1127.05L1012.85 1127.09L1013.59 1127.13L1014.32 1127.17L1015.06 1127.21L1015.79 1127.25L1016.53 1127.29L1017.27 1127.33L1018 1127.37L1018.74 1127.41L1019.47 1127.44L1020.21 1127.48L1020.95 1127.52L1021.68 1127.56L1022.42 1127.59L1023.15 1127.63L1023.89 1127.66L1024.63 1127.7L1025.36 1127.73L1026.1 1127.77L1026.83 1127.8L1027.57 1127.83L1028.31 1127.87L1029.04 1127.9L1029.78 1127.93L1030.52 1127.96L1031.25 1127.99L1031.99 1128.03L1032.72 1128.06L1033.46 1128.09L1034.2 1128.12L1034.93 1128.15L1035.67 1128.18L1036.4 1128.21L1037.14 1128.23L1037.88 1128.26L1038.61 1128.29L1039.35 1128.32L1040.08 1128.35L1040.82 1128.37L1041.56 1128.4L1042.29 1128.43L1043.03 1128.45L1043.76 1128.48L1044.5 1128.5L1045.24 1128.53L1045.97 1128.55L1046.71 1128.58L1047.44 1128.6L1048.18 1128.63L1048.92 1128.65L1049.65 1128.68L1050.39 1128.7L1051.12 1128.72L1051.86 1128.75L1052.6 1128.77L1053.33 1128.79L1054.07 1128.81L1054.8 1128.83L1055.54 1128.86L1056.28 1128.88L1057.01 1128.9L1057.75 1128.92L1058.49 1128.94L1059.22 1128.96L1059.96 1128.98L1060.69 1129L1061.43 1129.02L1062.17 1129.04L1062.9 1129.06L1063.64 1129.08L1064.37 1129.1L1065.11 1129.12L1065.85 1129.13L1066.58 1129.15L1067.32 1129.17L1068.05 1129.19L1068.79 1129.21L1069.53 1129.22L1070.26 1129.24L1071 1129.26L1071.73 1129.27L1072.47 1129.29L1073.21 1129.31L1073.94 1129.32L1074.68 1129.34L1075.41 1129.35L1076.15 1129.37L1076.89 1129.39L1077.62 1129.4L1078.36 1129.42L1079.09 1129.43L1079.83 1129.45L1080.57 1129.46L1081.3 1129.47L1082.04 1129.49L1082.77 1129.5L1083.51 1129.52L1084.25 1129.53L1084.98 1129.54L1085.72 1129.56L1086.46 1129.57L1087.19 1129.58L1087.93 1129.6L1088.66 1129.61L1089.4 1129.62L1090.14 1129.64L1090.87 1129.65L1091.61 1129.66L1092.34 1129.67L1093.08 1129.68L1093.82 1129.7L1094.55 1129.71L1095.29 1129.72L1096.02 1129.73L1096.76 1129.74L1097.5 1129.75L1098.23 1129.76L1098.97 1129.77L1099.7 1129.79L1100.44 1129.8L1101.18 1129.81L1101.91 1129.82L1102.65 1129.83L1103.38 1129.84L1104.12 1129.85L1104.86 1129.86L1105.59 1129.87L1106.33 1129.88L1107.06 1129.89L1107.8 1129.9L1108.54 1129.91L1109.27 1129.91L1110.01 1129.92L1110.74 1129.93L1111.48 1129.94L1112.22 1129.95L1112.95 1129.96L1113.69 1129.97L1114.43 1129.98L1115.16 1129.99L1115.9 1129.99L1116.63 1130L1117.37 1130.01L1118.11 1130.02L1118.84 1130.03L1119.58 1130.03L1120.31 1130.04L1121.05 1130.05L1121.79 1130.06L1122.52 1130.06L1123.26 1130.07L1123.99 1130.08L1124.73 1130.09L1125.47 1130.09L1126.2 1130.1L1126.94 1130.11L1127.67 1130.11L1128.41 1130.12L1129.15 1130.13L1129.88 1130.13L1130.62 1130.14L1131.35 1130.15L1132.09 1130.15L1132.83 1130.16L1133.56 1130.17L1134.3 1130.17L1135.03 1130.18L1135.77 1130.19L1136.51 1130.19L1137.24 1130.2L1137.98 1130.2L1138.71 1130.21L1139.45 1130.21L1140.19 1130.22L1140.92 1130.23L1141.66 1130.23L1142.4 1130.24L1143.13 1130.24L1143.87 1130.25L1144.6 1130.25L1145.34 1130.26L1146.08 1130.26L1146.81 1130.27L1147.55 1130.27L1148.28 1130.28L1149.02 1130.28L1149.76 1130.29L1150.49 1130.29L1151.23 1130.3L1151.96 1130.3L1152.7 1130.31" fill="none" stroke="#2a4b9f" stroke-width="1.3" stroke-linejoin="round"/>
</svg></body></html>
